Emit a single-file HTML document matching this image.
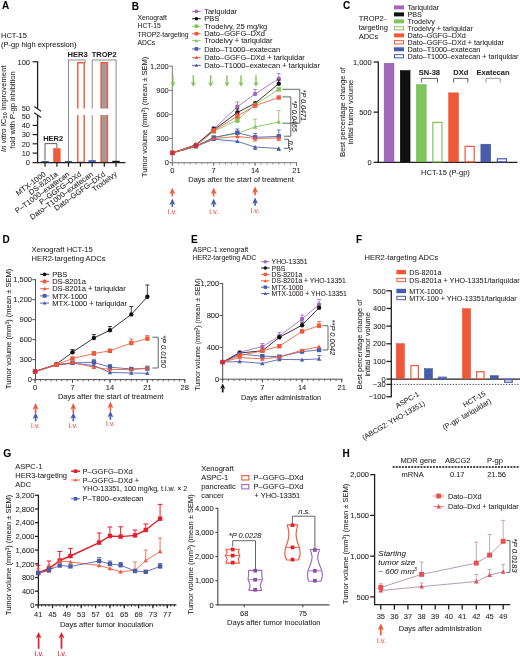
<!DOCTYPE html>
<html><head><meta charset="utf-8"><title>Figure</title>
<style>
html,body{margin:0;padding:0;background:#fff;}
body{width:520px;height:660px;overflow:hidden;}
svg{display:block;font-family:"Liberation Sans",sans-serif;}
text{fill:#231f20;stroke:#231f20;stroke-width:0.06px;}
</style></head><body>
<svg width="520" height="660" viewBox="0 0 520 660">
<g id="panelA">
<text x="2.00" y="9.10" font-size="10" font-weight="bold" style="fill:#000;stroke:#000">A</text>
<text x="1.00" y="38.20" font-size="7.5">HCT-15</text>
<text x="1.00" y="47.00" font-size="7.5">(P-gp high expression)</text>
<text x="5.70" y="108.70" font-size="7.5" text-anchor="middle" transform="rotate(-90 5.70 108.70)" textLength="86.5"><tspan font-style="italic">In vitro</tspan> IC<tspan dy="1.6" font-size="5.4">50</tspan><tspan dy="-1.6"> improvement</tspan></text>
<text x="14.80" y="110.00" font-size="7.5" text-anchor="middle" transform="rotate(-90 14.80 110.00)">fold with P-gp inhibition</text>
<line x1="37.60" y1="61.20" x2="37.60" y2="108.60" stroke="#231f20" stroke-width="1.3"/>
<line x1="37.60" y1="115.00" x2="37.60" y2="163.20" stroke="#231f20" stroke-width="1.3"/>
<line x1="34.20" y1="106.50" x2="41.10" y2="111.20" stroke="#231f20" stroke-width="1.1"/>
<line x1="34.20" y1="112.80" x2="41.10" y2="117.50" stroke="#231f20" stroke-width="1.1"/>
<line x1="32.60" y1="61.80" x2="37.60" y2="61.80" stroke="#231f20" stroke-width="1.2"/>
<text x="30.00" y="64.50" font-size="7.5" text-anchor="end">100</text>
<text x="30.00" y="111.20" font-size="7.5" text-anchor="end">50</text>
<text x="30.00" y="118.60" font-size="7.5" text-anchor="end">50</text>
<line x1="32.60" y1="125.40" x2="37.60" y2="125.40" stroke="#231f20" stroke-width="1.2"/>
<text x="30.00" y="128.10" font-size="7.5" text-anchor="end">40</text>
<line x1="32.60" y1="134.60" x2="37.60" y2="134.60" stroke="#231f20" stroke-width="1.2"/>
<text x="30.00" y="137.30" font-size="7.5" text-anchor="end">30</text>
<line x1="32.60" y1="143.80" x2="37.60" y2="143.80" stroke="#231f20" stroke-width="1.2"/>
<text x="30.00" y="146.50" font-size="7.5" text-anchor="end">20</text>
<line x1="32.60" y1="153.10" x2="37.60" y2="153.10" stroke="#231f20" stroke-width="1.2"/>
<text x="30.00" y="155.80" font-size="7.5" text-anchor="end">10</text>
<line x1="32.60" y1="162.60" x2="37.60" y2="162.60" stroke="#231f20" stroke-width="1.2"/>
<text x="30.00" y="165.30" font-size="7.5" text-anchor="end">0</text>
<path d="M68.5 162.3V60H85.2V63" stroke="#6d6e71" stroke-width="0.8" fill="none"/>
<path d="M92.2 162.3V60H116.1V162.3" stroke="#6d6e71" stroke-width="0.8" fill="none"/>
<rect x="41.30" y="161.00" width="7.40" height="1.30" fill="#495bab" stroke="none" stroke-width="1"/>
<rect x="53.20" y="148.20" width="7.40" height="14.10" fill="#f0583a" stroke="none" stroke-width="1"/>
<rect x="64.80" y="161.00" width="7.40" height="1.30" fill="#495bab" stroke="none" stroke-width="1"/>
<rect x="77.80" y="62.70" width="6.40" height="99.60" fill="#fff" stroke="#f0583a" stroke-width="1.4"/>
<rect x="88.40" y="160.20" width="7.40" height="2.10" fill="#495bab" stroke="none" stroke-width="1"/>
<rect x="101.10" y="62.70" width="6.40" height="99.60" fill="#9d9d9c" stroke="#f0583a" stroke-width="1.4"/>
<rect x="112.30" y="160.80" width="7.40" height="1.50" fill="#111111" stroke="none" stroke-width="1"/>
<rect x="75.00" y="108.60" width="36.00" height="6.40" fill="#fff" stroke="none" stroke-width="1"/>
<line x1="37.00" y1="162.60" x2="125.50" y2="162.60" stroke="#231f20" stroke-width="1.3"/>
<line x1="45.00" y1="162.30" x2="45.00" y2="166.80" stroke="#231f20" stroke-width="1.2"/>
<line x1="56.90" y1="162.30" x2="56.90" y2="166.80" stroke="#231f20" stroke-width="1.2"/>
<line x1="68.50" y1="162.30" x2="68.50" y2="166.80" stroke="#231f20" stroke-width="1.2"/>
<line x1="80.40" y1="162.30" x2="80.40" y2="166.80" stroke="#231f20" stroke-width="1.2"/>
<line x1="92.10" y1="162.30" x2="92.10" y2="166.80" stroke="#231f20" stroke-width="1.2"/>
<line x1="104.30" y1="162.30" x2="104.30" y2="166.80" stroke="#231f20" stroke-width="1.2"/>
<line x1="116.00" y1="162.30" x2="116.00" y2="166.80" stroke="#231f20" stroke-width="1.2"/>
<text x="46.50" y="175.30" font-size="7.5" text-anchor="end" transform="rotate(-36 46.50 175.30)">MTX-1000</text>
<text x="58.40" y="175.30" font-size="7.5" text-anchor="end" transform="rotate(-36 58.40 175.30)">DS-8201a</text>
<text x="70.00" y="175.30" font-size="7.5" text-anchor="end" transform="rotate(-36 70.00 175.30)">P–T1000–exatecan</text>
<text x="81.90" y="175.30" font-size="7.5" text-anchor="end" transform="rotate(-36 81.90 175.30)">P–GGFG–DXd</text>
<text x="93.60" y="175.30" font-size="7.5" text-anchor="end" transform="rotate(-36 93.60 175.30)">Dato–T1000–exatecan</text>
<text x="105.80" y="175.30" font-size="7.5" text-anchor="end" transform="rotate(-36 105.80 175.30)">Dato–GGFG–DXd</text>
<text x="117.50" y="175.30" font-size="7.5" text-anchor="end" transform="rotate(-36 117.50 175.30)">Trodelvy</text>
<path d="M45 160.5V143.6H56.9V148" stroke="#4d4d4f" stroke-width="0.9" fill="none"/>
<text x="53.20" y="141.30" font-size="7.5" text-anchor="middle" font-weight="bold">HER2</text>
<text x="77.60" y="57.20" font-size="7.5" text-anchor="middle" font-weight="bold">HER3</text>
<text x="104.20" y="57.20" font-size="7.5" text-anchor="middle" font-weight="bold">TROP2</text>
</g>
<g id="panelB">
<text x="131.80" y="9.60" font-size="10" font-weight="bold" style="fill:#000;stroke:#000">B</text>
<text x="137.60" y="19.90" font-size="6.75">Xenograft</text>
<text x="137.60" y="28.40" font-size="6.75">HCT-15</text>
<text x="137.60" y="36.90" font-size="6.75">TROP2-targeting</text>
<text x="137.60" y="45.40" font-size="6.75">ADCs</text>
<line x1="192.10" y1="11.40" x2="200.70" y2="11.40" stroke="#a168bb" stroke-width="0.95"/>
<circle cx="196.40" cy="11.40" r="1.80" fill="#a168bb"/>
<text x="204.20" y="14.00" font-size="7.5">Tariquidar</text>
<line x1="192.10" y1="18.70" x2="200.70" y2="18.70" stroke="#111111" stroke-width="0.95"/>
<circle cx="196.40" cy="18.70" r="1.80" fill="#111111"/>
<text x="204.20" y="21.30" font-size="7.5">PBS</text>
<line x1="192.10" y1="26.20" x2="200.70" y2="26.20" stroke="#80c45a" stroke-width="0.95"/>
<rect x="194.60" y="24.40" width="3.60" height="3.60" fill="#80c45a"/>
<text x="204.20" y="28.80" font-size="7.5">Trodelvy, 25 mg/kg</text>
<line x1="192.10" y1="33.70" x2="200.70" y2="33.70" stroke="#f0583a" stroke-width="0.95"/>
<rect x="194.60" y="31.90" width="3.60" height="3.60" fill="#f0583a"/>
<text x="204.20" y="36.30" font-size="7.5">Dato–GGFG–DXd</text>
<line x1="192.10" y1="40.70" x2="200.70" y2="40.70" stroke="#80c45a" stroke-width="0.95"/>
<path d="M196.40 38.90L198.20 42.14L194.60 42.14Z" fill="#80c45a"/>
<text x="204.20" y="43.30" font-size="7.5">Trodelvy + tariquidar</text>
<line x1="192.10" y1="48.90" x2="200.70" y2="48.90" stroke="#495bab" stroke-width="0.95"/>
<rect x="194.60" y="47.10" width="3.60" height="3.60" fill="#495bab"/>
<text x="204.20" y="51.50" font-size="7.5">Dato–T1000–exatecan</text>
<line x1="192.10" y1="57.60" x2="200.70" y2="57.60" stroke="#f0583a" stroke-width="0.95"/>
<path d="M196.40 55.80L198.20 59.04L194.60 59.04Z" fill="#f0583a"/>
<text x="204.20" y="60.20" font-size="7.5">Dato–GGFG–DXd + tariquidar</text>
<line x1="192.10" y1="65.40" x2="200.70" y2="65.40" stroke="#495bab" stroke-width="0.95"/>
<path d="M196.40 63.60L198.20 66.84L194.60 66.84Z" fill="#495bab"/>
<text x="204.20" y="68.00" font-size="7.5">Dato–T1000–exatecan + tariquidar</text>
<text x="146.60" y="117.00" font-size="7.5" text-anchor="middle" transform="rotate(-90 146.60 117.00)">Tumor volume (mm<tspan baseline-shift="super" font-size="4.8">3</tspan>) (mean ± SEM)</text>
<line x1="172.30" y1="163.20" x2="172.30" y2="65.70" stroke="#77787b" stroke-width="1"/>
<line x1="169.10" y1="162.70" x2="172.30" y2="162.70" stroke="#77787b" stroke-width="1"/>
<text x="168.80" y="165.40" font-size="7.5" text-anchor="end">0</text>
<line x1="169.10" y1="138.58" x2="172.30" y2="138.58" stroke="#77787b" stroke-width="1"/>
<text x="168.80" y="141.28" font-size="7.5" text-anchor="end">300</text>
<line x1="169.10" y1="114.46" x2="172.30" y2="114.46" stroke="#77787b" stroke-width="1"/>
<text x="168.80" y="117.16" font-size="7.5" text-anchor="end">600</text>
<line x1="169.10" y1="90.34" x2="172.30" y2="90.34" stroke="#77787b" stroke-width="1"/>
<text x="168.80" y="93.04" font-size="7.5" text-anchor="end">900</text>
<line x1="169.10" y1="66.22" x2="172.30" y2="66.22" stroke="#77787b" stroke-width="1"/>
<text x="168.80" y="68.92" font-size="7.5" text-anchor="end">1,200</text>
<line x1="171.80" y1="162.70" x2="297.01" y2="162.70" stroke="#77787b" stroke-width="1"/>
<line x1="172.30" y1="162.70" x2="172.30" y2="166.00" stroke="#77787b" stroke-width="1"/>
<text x="172.30" y="173.00" font-size="7.5" text-anchor="middle">0</text>
<line x1="213.71" y1="162.70" x2="213.71" y2="166.00" stroke="#77787b" stroke-width="1"/>
<text x="213.71" y="173.00" font-size="7.5" text-anchor="middle">7</text>
<line x1="255.11" y1="162.70" x2="255.11" y2="166.00" stroke="#77787b" stroke-width="1"/>
<text x="255.11" y="173.00" font-size="7.5" text-anchor="middle">14</text>
<line x1="296.51" y1="162.70" x2="296.51" y2="166.00" stroke="#77787b" stroke-width="1"/>
<text x="296.51" y="173.00" font-size="7.5" text-anchor="middle">21</text>
<line x1="172.30" y1="162.70" x2="172.30" y2="164.50" stroke="#77787b" stroke-width="0.8"/>
<line x1="178.22" y1="162.70" x2="178.22" y2="164.50" stroke="#77787b" stroke-width="0.8"/>
<line x1="184.13" y1="162.70" x2="184.13" y2="164.50" stroke="#77787b" stroke-width="0.8"/>
<line x1="190.05" y1="162.70" x2="190.05" y2="164.50" stroke="#77787b" stroke-width="0.8"/>
<line x1="195.96" y1="162.70" x2="195.96" y2="164.50" stroke="#77787b" stroke-width="0.8"/>
<line x1="201.88" y1="162.70" x2="201.88" y2="164.50" stroke="#77787b" stroke-width="0.8"/>
<line x1="207.79" y1="162.70" x2="207.79" y2="164.50" stroke="#77787b" stroke-width="0.8"/>
<line x1="213.71" y1="162.70" x2="213.71" y2="164.50" stroke="#77787b" stroke-width="0.8"/>
<line x1="219.62" y1="162.70" x2="219.62" y2="164.50" stroke="#77787b" stroke-width="0.8"/>
<line x1="225.54" y1="162.70" x2="225.54" y2="164.50" stroke="#77787b" stroke-width="0.8"/>
<line x1="231.45" y1="162.70" x2="231.45" y2="164.50" stroke="#77787b" stroke-width="0.8"/>
<line x1="237.37" y1="162.70" x2="237.37" y2="164.50" stroke="#77787b" stroke-width="0.8"/>
<line x1="243.28" y1="162.70" x2="243.28" y2="164.50" stroke="#77787b" stroke-width="0.8"/>
<line x1="249.19" y1="162.70" x2="249.19" y2="164.50" stroke="#77787b" stroke-width="0.8"/>
<line x1="255.11" y1="162.70" x2="255.11" y2="164.50" stroke="#77787b" stroke-width="0.8"/>
<line x1="261.02" y1="162.70" x2="261.02" y2="164.50" stroke="#77787b" stroke-width="0.8"/>
<line x1="266.94" y1="162.70" x2="266.94" y2="164.50" stroke="#77787b" stroke-width="0.8"/>
<line x1="272.86" y1="162.70" x2="272.86" y2="164.50" stroke="#77787b" stroke-width="0.8"/>
<line x1="278.77" y1="162.70" x2="278.77" y2="164.50" stroke="#77787b" stroke-width="0.8"/>
<line x1="284.69" y1="162.70" x2="284.69" y2="164.50" stroke="#77787b" stroke-width="0.8"/>
<line x1="290.60" y1="162.70" x2="290.60" y2="164.50" stroke="#77787b" stroke-width="0.8"/>
<line x1="296.51" y1="162.70" x2="296.51" y2="164.50" stroke="#77787b" stroke-width="0.8"/>
<text x="241.00" y="182.30" font-size="7.5" text-anchor="middle">Days after the start of treatment</text>
<line x1="173.00" y1="75.30" x2="173.00" y2="83.40" stroke="#80c45a" stroke-width="1.4"/>
<path d="M170.30 81.80L173.00 86.80L175.70 81.80L173.00 83.30Z" stroke="none" stroke-width="0" fill="#80c45a"/>
<line x1="193.30" y1="75.30" x2="193.30" y2="83.40" stroke="#80c45a" stroke-width="1.4"/>
<path d="M190.60 81.80L193.30 86.80L196.00 81.80L193.30 83.30Z" stroke="none" stroke-width="0" fill="#80c45a"/>
<line x1="210.70" y1="75.30" x2="210.70" y2="83.40" stroke="#80c45a" stroke-width="1.4"/>
<path d="M208.00 81.80L210.70 86.80L213.40 81.80L210.70 83.30Z" stroke="none" stroke-width="0" fill="#80c45a"/>
<line x1="227.00" y1="75.30" x2="227.00" y2="83.40" stroke="#80c45a" stroke-width="1.4"/>
<path d="M224.30 81.80L227.00 86.80L229.70 81.80L227.00 83.30Z" stroke="none" stroke-width="0" fill="#80c45a"/>
<line x1="241.00" y1="75.30" x2="241.00" y2="83.40" stroke="#80c45a" stroke-width="1.4"/>
<path d="M238.30 81.80L241.00 86.80L243.70 81.80L241.00 83.30Z" stroke="none" stroke-width="0" fill="#80c45a"/>
<line x1="256.00" y1="75.30" x2="256.00" y2="83.40" stroke="#80c45a" stroke-width="1.4"/>
<path d="M253.30 81.80L256.00 86.80L258.70 81.80L256.00 83.30Z" stroke="none" stroke-width="0" fill="#80c45a"/>
<path d="M172.30 152.90L195.96 144.60L213.71 129.20L237.37 106.70L255.11 94.00L278.77 78.70" stroke="#a168bb" stroke-width="0.85" fill="none" stroke-linejoin="round"/>
<line x1="213.71" y1="129.20" x2="213.71" y2="126.50" stroke="#a168bb" stroke-width="0.8"/>
<line x1="211.71" y1="126.50" x2="215.71" y2="126.50" stroke="#a168bb" stroke-width="0.8"/>
<line x1="237.37" y1="106.70" x2="237.37" y2="102.00" stroke="#a168bb" stroke-width="0.8"/>
<line x1="235.37" y1="102.00" x2="239.37" y2="102.00" stroke="#a168bb" stroke-width="0.8"/>
<line x1="255.11" y1="94.00" x2="255.11" y2="89.50" stroke="#a168bb" stroke-width="0.8"/>
<line x1="253.11" y1="89.50" x2="257.11" y2="89.50" stroke="#a168bb" stroke-width="0.8"/>
<line x1="278.77" y1="78.70" x2="278.77" y2="73.50" stroke="#a168bb" stroke-width="0.8"/>
<line x1="276.77" y1="73.50" x2="280.77" y2="73.50" stroke="#a168bb" stroke-width="0.8"/>
<circle cx="172.30" cy="152.90" r="2.20" fill="#a168bb"/>
<circle cx="195.96" cy="144.60" r="2.20" fill="#a168bb"/>
<circle cx="213.71" cy="129.20" r="2.20" fill="#a168bb"/>
<circle cx="237.37" cy="106.70" r="2.20" fill="#a168bb"/>
<circle cx="255.11" cy="94.00" r="2.20" fill="#a168bb"/>
<circle cx="278.77" cy="78.70" r="2.20" fill="#a168bb"/>
<path d="M172.30 152.90L195.96 145.00L213.71 130.00L237.37 112.50L255.11 103.30L278.77 83.70" stroke="#111111" stroke-width="0.85" fill="none" stroke-linejoin="round"/>
<line x1="213.71" y1="130.00" x2="213.71" y2="127.50" stroke="#111111" stroke-width="0.8"/>
<line x1="211.71" y1="127.50" x2="215.71" y2="127.50" stroke="#111111" stroke-width="0.8"/>
<line x1="237.37" y1="112.50" x2="237.37" y2="109.00" stroke="#111111" stroke-width="0.8"/>
<line x1="235.37" y1="109.00" x2="239.37" y2="109.00" stroke="#111111" stroke-width="0.8"/>
<line x1="278.77" y1="83.70" x2="278.77" y2="80.00" stroke="#111111" stroke-width="0.8"/>
<line x1="276.77" y1="80.00" x2="280.77" y2="80.00" stroke="#111111" stroke-width="0.8"/>
<circle cx="172.30" cy="152.90" r="2.20" fill="#111111"/>
<circle cx="195.96" cy="145.00" r="2.20" fill="#111111"/>
<circle cx="213.71" cy="130.00" r="2.20" fill="#111111"/>
<circle cx="237.37" cy="112.50" r="2.20" fill="#111111"/>
<circle cx="255.11" cy="103.30" r="2.20" fill="#111111"/>
<circle cx="278.77" cy="83.70" r="2.20" fill="#111111"/>
<path d="M172.30 152.90L195.96 145.50L213.71 131.50L237.37 120.00L255.11 104.80L278.77 89.40" stroke="#80c45a" stroke-width="0.85" fill="none" stroke-linejoin="round"/>
<line x1="237.37" y1="120.00" x2="237.37" y2="122.50" stroke="#80c45a" stroke-width="0.8"/>
<line x1="235.37" y1="122.50" x2="239.37" y2="122.50" stroke="#80c45a" stroke-width="0.8"/>
<rect x="170.10" y="150.70" width="4.40" height="4.40" fill="#80c45a"/>
<rect x="193.76" y="143.30" width="4.40" height="4.40" fill="#80c45a"/>
<rect x="211.51" y="129.30" width="4.40" height="4.40" fill="#80c45a"/>
<rect x="235.17" y="117.80" width="4.40" height="4.40" fill="#80c45a"/>
<rect x="252.91" y="102.60" width="4.40" height="4.40" fill="#80c45a"/>
<rect x="276.57" y="87.20" width="4.40" height="4.40" fill="#80c45a"/>
<path d="M172.30 152.90L195.96 146.50L213.71 137.50L237.37 133.50L255.11 126.90L278.77 122.00" stroke="#80c45a" stroke-width="0.85" fill="none" stroke-linejoin="round"/>
<line x1="255.11" y1="126.90" x2="255.11" y2="119.00" stroke="#80c45a" stroke-width="0.8"/>
<line x1="253.11" y1="119.00" x2="257.11" y2="119.00" stroke="#80c45a" stroke-width="0.8"/>
<line x1="278.77" y1="122.00" x2="278.77" y2="110.50" stroke="#80c45a" stroke-width="0.8"/>
<line x1="276.77" y1="110.50" x2="280.77" y2="110.50" stroke="#80c45a" stroke-width="0.8"/>
<path d="M172.30 150.70L174.50 154.66L170.10 154.66Z" fill="#80c45a"/>
<path d="M195.96 144.30L198.16 148.26L193.76 148.26Z" fill="#80c45a"/>
<path d="M213.71 135.30L215.91 139.26L211.51 139.26Z" fill="#80c45a"/>
<path d="M237.37 131.30L239.56 135.26L235.17 135.26Z" fill="#80c45a"/>
<path d="M255.11 124.70L257.31 128.66L252.91 128.66Z" fill="#80c45a"/>
<path d="M278.77 119.80L280.97 123.76L276.57 123.76Z" fill="#80c45a"/>
<path d="M172.30 152.90L195.96 146.00L213.71 137.50L237.37 132.70L255.11 137.30L278.77 136.40" stroke="#495bab" stroke-width="0.85" fill="none" stroke-linejoin="round"/>
<line x1="237.37" y1="132.70" x2="237.37" y2="129.00" stroke="#495bab" stroke-width="0.8"/>
<line x1="235.37" y1="129.00" x2="239.37" y2="129.00" stroke="#495bab" stroke-width="0.8"/>
<line x1="255.11" y1="137.30" x2="255.11" y2="133.50" stroke="#495bab" stroke-width="0.8"/>
<line x1="253.11" y1="133.50" x2="257.11" y2="133.50" stroke="#495bab" stroke-width="0.8"/>
<line x1="278.77" y1="136.40" x2="278.77" y2="130.00" stroke="#495bab" stroke-width="0.8"/>
<line x1="276.77" y1="130.00" x2="280.77" y2="130.00" stroke="#495bab" stroke-width="0.8"/>
<rect x="170.10" y="150.70" width="4.40" height="4.40" fill="#495bab"/>
<rect x="193.76" y="143.80" width="4.40" height="4.40" fill="#495bab"/>
<rect x="211.51" y="135.30" width="4.40" height="4.40" fill="#495bab"/>
<rect x="235.17" y="130.50" width="4.40" height="4.40" fill="#495bab"/>
<rect x="252.91" y="135.10" width="4.40" height="4.40" fill="#495bab"/>
<rect x="276.57" y="134.20" width="4.40" height="4.40" fill="#495bab"/>
<path d="M172.30 152.90L195.96 146.50L213.71 139.30L237.37 141.30L255.11 147.10L278.77 148.50" stroke="#495bab" stroke-width="0.85" fill="none" stroke-linejoin="round"/>
<line x1="255.11" y1="147.10" x2="255.11" y2="149.50" stroke="#495bab" stroke-width="0.8"/>
<line x1="253.11" y1="149.50" x2="257.11" y2="149.50" stroke="#495bab" stroke-width="0.8"/>
<line x1="278.77" y1="148.50" x2="278.77" y2="150.50" stroke="#495bab" stroke-width="0.8"/>
<line x1="276.77" y1="150.50" x2="280.77" y2="150.50" stroke="#495bab" stroke-width="0.8"/>
<path d="M172.30 150.70L174.50 154.66L170.10 154.66Z" fill="#495bab"/>
<path d="M195.96 144.30L198.16 148.26L193.76 148.26Z" fill="#495bab"/>
<path d="M213.71 137.10L215.91 141.06L211.51 141.06Z" fill="#495bab"/>
<path d="M237.37 139.10L239.56 143.06L235.17 143.06Z" fill="#495bab"/>
<path d="M255.11 144.90L257.31 148.86L252.91 148.86Z" fill="#495bab"/>
<path d="M278.77 146.30L280.97 150.26L276.57 150.26Z" fill="#495bab"/>
<path d="M172.30 152.90L195.96 145.50L213.71 130.80L237.37 116.20L255.11 105.60L278.77 97.50" stroke="#f0583a" stroke-width="0.85" fill="none" stroke-linejoin="round"/>
<line x1="213.71" y1="130.80" x2="213.71" y2="128.50" stroke="#f0583a" stroke-width="0.8"/>
<line x1="211.71" y1="128.50" x2="215.71" y2="128.50" stroke="#f0583a" stroke-width="0.8"/>
<line x1="237.37" y1="116.20" x2="237.37" y2="113.00" stroke="#f0583a" stroke-width="0.8"/>
<line x1="235.37" y1="113.00" x2="239.37" y2="113.00" stroke="#f0583a" stroke-width="0.8"/>
<rect x="170.10" y="150.70" width="4.40" height="4.40" fill="#f0583a"/>
<rect x="193.76" y="143.30" width="4.40" height="4.40" fill="#f0583a"/>
<rect x="211.51" y="128.60" width="4.40" height="4.40" fill="#f0583a"/>
<rect x="235.17" y="114.00" width="4.40" height="4.40" fill="#f0583a"/>
<rect x="252.91" y="103.40" width="4.40" height="4.40" fill="#f0583a"/>
<rect x="276.57" y="95.30" width="4.40" height="4.40" fill="#f0583a"/>
<path d="M172.30 152.90L195.96 146.00L213.71 138.60L237.37 136.40L255.11 138.50L278.77 137.90" stroke="#f0583a" stroke-width="0.85" fill="none" stroke-linejoin="round"/>
<line x1="255.11" y1="138.50" x2="255.11" y2="141.00" stroke="#f0583a" stroke-width="0.8"/>
<line x1="253.11" y1="141.00" x2="257.11" y2="141.00" stroke="#f0583a" stroke-width="0.8"/>
<line x1="278.77" y1="137.90" x2="278.77" y2="140.50" stroke="#f0583a" stroke-width="0.8"/>
<line x1="276.77" y1="140.50" x2="280.77" y2="140.50" stroke="#f0583a" stroke-width="0.8"/>
<path d="M172.30 150.70L174.50 154.66L170.10 154.66Z" fill="#f0583a"/>
<path d="M195.96 143.80L198.16 147.76L193.76 147.76Z" fill="#f0583a"/>
<path d="M213.71 136.40L215.91 140.36L211.51 140.36Z" fill="#f0583a"/>
<path d="M237.37 134.20L239.56 138.16L235.17 138.16Z" fill="#f0583a"/>
<path d="M255.11 136.30L257.31 140.26L252.91 140.26Z" fill="#f0583a"/>
<path d="M278.77 135.70L280.97 139.66L276.57 139.66Z" fill="#f0583a"/>
<circle cx="172.30" cy="152.90" r="2.20" fill="#d8263c"/>
<circle cx="195.96" cy="145.60" r="2.30" fill="#c8283c"/>
<path d="M282.4 89.3H299.8V123.2H282.4" stroke="#454d4f" stroke-width="0.85" fill="none"/>
<path d="M282.4 96.9H290.8V136.2H284" stroke="#454d4f" stroke-width="0.85" fill="none"/>
<path d="M284 139.2H288.5V148.3H284" stroke="#454d4f" stroke-width="0.85" fill="none"/>
<text x="301.30" y="89.60" font-size="7.2" font-style="italic" transform="rotate(90 301.30 89.60)">*P 0.0471</text>
<text x="292.20" y="100.40" font-size="7.2" font-style="italic" transform="rotate(90 292.20 100.40)">*P 0.0465</text>
<text x="289.40" y="140.80" font-size="7.5" font-style="italic" transform="rotate(90 289.40 140.80)">n.s.</text>
<line x1="172.30" y1="196.40" x2="172.30" y2="192.50" stroke="#f0583a" stroke-width="1.6"/>
<path d="M169.40 194.10L172.30 187.80L175.20 194.10L172.30 192.70Z" stroke="none" stroke-width="0" fill="#f0583a"/>
<line x1="172.30" y1="206.90" x2="172.30" y2="203.30" stroke="#495bab" stroke-width="1.6"/>
<path d="M169.40 204.90L172.30 198.60L175.20 204.90L172.30 203.50Z" stroke="none" stroke-width="0" fill="#495bab"/>
<text x="172.30" y="214.30" font-size="7.5" text-anchor="middle" style="fill:#f0583a;stroke:#f0583a">i.v.</text>
<line x1="213.71" y1="196.40" x2="213.71" y2="192.50" stroke="#f0583a" stroke-width="1.6"/>
<path d="M210.81 194.10L213.71 187.80L216.61 194.10L213.71 192.70Z" stroke="none" stroke-width="0" fill="#f0583a"/>
<line x1="213.71" y1="206.90" x2="213.71" y2="203.30" stroke="#495bab" stroke-width="1.6"/>
<path d="M210.81 204.90L213.71 198.60L216.61 204.90L213.71 203.50Z" stroke="none" stroke-width="0" fill="#495bab"/>
<text x="213.71" y="214.30" font-size="7.5" text-anchor="middle" style="fill:#f0583a;stroke:#f0583a">i.v.</text>
<line x1="255.11" y1="195.20" x2="255.11" y2="191.30" stroke="#f0583a" stroke-width="1.6"/>
<path d="M252.21 192.90L255.11 186.60L258.01 192.90L255.11 191.50Z" stroke="none" stroke-width="0" fill="#f0583a"/>
<line x1="255.11" y1="205.70" x2="255.11" y2="202.10" stroke="#495bab" stroke-width="1.6"/>
<path d="M252.21 203.70L255.11 197.40L258.01 203.70L255.11 202.30Z" stroke="none" stroke-width="0" fill="#495bab"/>
<text x="255.11" y="213.10" font-size="7.5" text-anchor="middle" style="fill:#f0583a;stroke:#f0583a">i.v.</text>
</g>
<g id="panelC">
<text x="343.00" y="9.10" font-size="10" font-weight="bold" style="fill:#000;stroke:#000">C</text>
<text x="358.70" y="21.30" font-size="7.5">TROP2-</text>
<text x="358.70" y="30.10" font-size="7.5">targeting</text>
<text x="358.70" y="38.90" font-size="7.5">ADCs</text>
<rect x="394.00" y="5.40" width="10.00" height="4.00" fill="#a168bb" stroke="none" stroke-width="1"/>
<text x="407.50" y="9.90" font-size="7.2">Tariquidar</text>
<rect x="394.00" y="12.38" width="10.00" height="4.00" fill="#111111" stroke="none" stroke-width="1"/>
<text x="407.50" y="16.88" font-size="7.2">PBS</text>
<rect x="394.00" y="19.36" width="10.00" height="4.00" fill="#80c45a" stroke="none" stroke-width="1"/>
<text x="407.50" y="23.86" font-size="7.2">Trodelvy</text>
<rect x="394.50" y="26.74" width="9.00" height="3.20" fill="#fff" stroke="#80c45a" stroke-width="1"/>
<text x="407.50" y="30.84" font-size="7.2">Trodelvy + tariquidar</text>
<rect x="394.00" y="33.32" width="10.00" height="4.00" fill="#f0583a" stroke="none" stroke-width="1"/>
<text x="407.50" y="37.82" font-size="7.2">Dato–GGFG–DXd</text>
<rect x="394.50" y="40.70" width="9.00" height="3.20" fill="#fff" stroke="#f0583a" stroke-width="1"/>
<text x="407.50" y="44.80" font-size="7.2">Dato–GGFG–DXd + tariquidar</text>
<rect x="394.00" y="47.28" width="10.00" height="4.00" fill="#495bab" stroke="none" stroke-width="1"/>
<text x="407.50" y="51.78" font-size="7.2">Dato–T1000–exatecan</text>
<rect x="394.50" y="54.66" width="9.00" height="3.20" fill="#fff" stroke="#495bab" stroke-width="1"/>
<text x="407.50" y="58.76" font-size="7.2">Dato–T1000–exatecan + tariquidar</text>
<text x="344.50" y="112.00" font-size="7.5" text-anchor="middle" transform="rotate(-90 344.50 112.00)">Best percentage change of</text>
<text x="352.50" y="112.00" font-size="7.5" text-anchor="middle" transform="rotate(-90 352.50 112.00)">initial tumor volume</text>
<line x1="378.30" y1="162.90" x2="378.30" y2="61.40" stroke="#231f20" stroke-width="1.3"/>
<line x1="373.60" y1="162.30" x2="378.30" y2="162.30" stroke="#231f20" stroke-width="1.3"/>
<text x="371.70" y="165.00" font-size="7.5" text-anchor="end">0</text>
<line x1="373.60" y1="112.15" x2="378.30" y2="112.15" stroke="#231f20" stroke-width="1.3"/>
<text x="371.70" y="114.85" font-size="7.5" text-anchor="end">500</text>
<line x1="373.60" y1="62.00" x2="378.30" y2="62.00" stroke="#231f20" stroke-width="1.3"/>
<text x="371.70" y="64.70" font-size="7.5" text-anchor="end">1,000</text>
<line x1="377.70" y1="162.30" x2="517.50" y2="162.30" stroke="#231f20" stroke-width="1.3"/>
<rect x="384.15" y="63.25" width="9.80" height="98.60" fill="#a168bb" stroke="#8a52a6" stroke-width="0.5"/>
<rect x="400.27" y="70.47" width="9.80" height="91.38" fill="#111111" stroke="#000" stroke-width="0.5"/>
<rect x="416.39" y="84.72" width="9.80" height="77.13" fill="#80c45a" stroke="#69b044" stroke-width="0.5"/>
<rect x="432.86" y="122.38" width="9.10" height="39.42" fill="#fff" stroke="#80c45a" stroke-width="1.2"/>
<rect x="448.63" y="92.84" width="9.80" height="69.01" fill="#f0583a" stroke="#e2472b" stroke-width="0.5"/>
<rect x="465.10" y="146.35" width="9.10" height="15.45" fill="#fff" stroke="#f0583a" stroke-width="1.2"/>
<rect x="480.87" y="144.20" width="9.80" height="17.65" fill="#495bab" stroke="#3b4c99" stroke-width="0.5"/>
<rect x="497.34" y="158.79" width="9.10" height="3.01" fill="#fff" stroke="#495bab" stroke-width="1.2"/>
<path d="M421.3 82.7V78.4H437.5V82.7" stroke="#231f20" stroke-width="0.7" fill="none"/>
<text x="429.40" y="75.20" font-size="7.5" text-anchor="middle" font-weight="bold">SN-38</text>
<path d="M453.6 82.7V78.4H467.9V82.7" stroke="#231f20" stroke-width="0.7" fill="none"/>
<text x="460.75" y="75.20" font-size="7.5" text-anchor="middle" font-weight="bold">DXd</text>
<path d="M485.9 82.7V78.4H500.2V82.7" stroke="#6d6e71" stroke-width="0.7" fill="none"/>
<text x="493.05" y="75.20" font-size="7.5" text-anchor="middle" font-weight="bold">Exatecan</text>
<text x="445.50" y="174.60" font-size="7.5" text-anchor="middle">HCT-15 (P-gp)</text>
</g>
<g id="panelD">
<text x="2.60" y="242.60" font-size="10" font-weight="bold" style="fill:#000;stroke:#000">D</text>
<text x="31.60" y="251.70" font-size="7.6">Xenograft HCT-15</text>
<text x="31.60" y="260.60" font-size="7.6">HER2-targeting ADCs</text>
<text x="11.20" y="329.00" font-size="7.5" text-anchor="middle" transform="rotate(-90 11.20 329.00)">Tumor volume (mm<tspan baseline-shift="super" font-size="4.8">3</tspan>) (mean ± SEM)</text>
<line x1="35.50" y1="380.10" x2="35.50" y2="279.20" stroke="#4d4e50" stroke-width="1"/>
<line x1="32.30" y1="379.60" x2="35.50" y2="379.60" stroke="#4d4e50" stroke-width="1"/>
<text x="32.00" y="382.30" font-size="7.5" text-anchor="end">0</text>
<line x1="32.30" y1="359.62" x2="35.50" y2="359.62" stroke="#4d4e50" stroke-width="1"/>
<text x="32.00" y="362.32" font-size="7.5" text-anchor="end">300</text>
<line x1="32.30" y1="339.64" x2="35.50" y2="339.64" stroke="#4d4e50" stroke-width="1"/>
<text x="32.00" y="342.34" font-size="7.5" text-anchor="end">600</text>
<line x1="32.30" y1="319.66" x2="35.50" y2="319.66" stroke="#4d4e50" stroke-width="1"/>
<text x="32.00" y="322.36" font-size="7.5" text-anchor="end">900</text>
<line x1="32.30" y1="299.68" x2="35.50" y2="299.68" stroke="#4d4e50" stroke-width="1"/>
<text x="32.00" y="302.38" font-size="7.5" text-anchor="end">1,200</text>
<line x1="32.30" y1="279.70" x2="35.50" y2="279.70" stroke="#4d4e50" stroke-width="1"/>
<text x="32.00" y="282.40" font-size="7.5" text-anchor="end">1,500</text>
<line x1="35.00" y1="379.60" x2="185.26" y2="379.60" stroke="#4d4e50" stroke-width="1"/>
<line x1="35.10" y1="379.60" x2="35.10" y2="382.90" stroke="#4d4e50" stroke-width="1"/>
<text x="35.10" y="390.40" font-size="7.5" text-anchor="middle">0</text>
<line x1="72.52" y1="379.60" x2="72.52" y2="382.90" stroke="#4d4e50" stroke-width="1"/>
<text x="72.52" y="390.40" font-size="7.5" text-anchor="middle">7</text>
<line x1="109.93" y1="379.60" x2="109.93" y2="382.90" stroke="#4d4e50" stroke-width="1"/>
<text x="109.93" y="390.40" font-size="7.5" text-anchor="middle">14</text>
<line x1="147.34" y1="379.60" x2="147.34" y2="382.90" stroke="#4d4e50" stroke-width="1"/>
<text x="147.34" y="390.40" font-size="7.5" text-anchor="middle">21</text>
<line x1="184.76" y1="379.60" x2="184.76" y2="382.90" stroke="#4d4e50" stroke-width="1"/>
<text x="184.76" y="390.40" font-size="7.5" text-anchor="middle">28</text>
<line x1="35.10" y1="379.60" x2="35.10" y2="381.40" stroke="#4d4e50" stroke-width="0.8"/>
<line x1="40.45" y1="379.60" x2="40.45" y2="381.40" stroke="#4d4e50" stroke-width="0.8"/>
<line x1="45.79" y1="379.60" x2="45.79" y2="381.40" stroke="#4d4e50" stroke-width="0.8"/>
<line x1="51.14" y1="379.60" x2="51.14" y2="381.40" stroke="#4d4e50" stroke-width="0.8"/>
<line x1="56.48" y1="379.60" x2="56.48" y2="381.40" stroke="#4d4e50" stroke-width="0.8"/>
<line x1="61.83" y1="379.60" x2="61.83" y2="381.40" stroke="#4d4e50" stroke-width="0.8"/>
<line x1="67.17" y1="379.60" x2="67.17" y2="381.40" stroke="#4d4e50" stroke-width="0.8"/>
<line x1="72.52" y1="379.60" x2="72.52" y2="381.40" stroke="#4d4e50" stroke-width="0.8"/>
<line x1="77.86" y1="379.60" x2="77.86" y2="381.40" stroke="#4d4e50" stroke-width="0.8"/>
<line x1="83.20" y1="379.60" x2="83.20" y2="381.40" stroke="#4d4e50" stroke-width="0.8"/>
<line x1="88.55" y1="379.60" x2="88.55" y2="381.40" stroke="#4d4e50" stroke-width="0.8"/>
<line x1="93.89" y1="379.60" x2="93.89" y2="381.40" stroke="#4d4e50" stroke-width="0.8"/>
<line x1="99.24" y1="379.60" x2="99.24" y2="381.40" stroke="#4d4e50" stroke-width="0.8"/>
<line x1="104.59" y1="379.60" x2="104.59" y2="381.40" stroke="#4d4e50" stroke-width="0.8"/>
<line x1="109.93" y1="379.60" x2="109.93" y2="381.40" stroke="#4d4e50" stroke-width="0.8"/>
<line x1="115.28" y1="379.60" x2="115.28" y2="381.40" stroke="#4d4e50" stroke-width="0.8"/>
<line x1="120.62" y1="379.60" x2="120.62" y2="381.40" stroke="#4d4e50" stroke-width="0.8"/>
<line x1="125.97" y1="379.60" x2="125.97" y2="381.40" stroke="#4d4e50" stroke-width="0.8"/>
<line x1="131.31" y1="379.60" x2="131.31" y2="381.40" stroke="#4d4e50" stroke-width="0.8"/>
<line x1="136.66" y1="379.60" x2="136.66" y2="381.40" stroke="#4d4e50" stroke-width="0.8"/>
<line x1="142.00" y1="379.60" x2="142.00" y2="381.40" stroke="#4d4e50" stroke-width="0.8"/>
<line x1="147.34" y1="379.60" x2="147.34" y2="381.40" stroke="#4d4e50" stroke-width="0.8"/>
<line x1="152.69" y1="379.60" x2="152.69" y2="381.40" stroke="#4d4e50" stroke-width="0.8"/>
<line x1="158.03" y1="379.60" x2="158.03" y2="381.40" stroke="#4d4e50" stroke-width="0.8"/>
<line x1="163.38" y1="379.60" x2="163.38" y2="381.40" stroke="#4d4e50" stroke-width="0.8"/>
<line x1="168.72" y1="379.60" x2="168.72" y2="381.40" stroke="#4d4e50" stroke-width="0.8"/>
<line x1="174.07" y1="379.60" x2="174.07" y2="381.40" stroke="#4d4e50" stroke-width="0.8"/>
<line x1="179.41" y1="379.60" x2="179.41" y2="381.40" stroke="#4d4e50" stroke-width="0.8"/>
<line x1="184.76" y1="379.60" x2="184.76" y2="381.40" stroke="#4d4e50" stroke-width="0.8"/>
<text x="110.70" y="399.00" font-size="7.5" text-anchor="middle">Days after the start of treatment</text>
<line x1="40.10" y1="274.30" x2="49.10" y2="274.30" stroke="#111111" stroke-width="0.95"/>
<circle cx="44.60" cy="274.30" r="1.90" fill="#111111"/>
<text x="52.20" y="276.90" font-size="7.5">PBS</text>
<line x1="40.10" y1="281.50" x2="49.10" y2="281.50" stroke="#f0583a" stroke-width="0.95"/>
<rect x="42.70" y="279.60" width="3.80" height="3.80" fill="#f0583a"/>
<text x="52.20" y="284.10" font-size="7.5">DS-8201a</text>
<line x1="40.10" y1="288.70" x2="49.10" y2="288.70" stroke="#f0583a" stroke-width="0.95"/>
<path d="M44.60 286.80L46.50 290.22L42.70 290.22Z" fill="#f0583a"/>
<text x="52.20" y="291.30" font-size="7.5">DS-8201a + tariquidar</text>
<line x1="40.10" y1="295.90" x2="49.10" y2="295.90" stroke="#495bab" stroke-width="0.95"/>
<rect x="42.70" y="294.00" width="3.80" height="3.80" fill="#495bab"/>
<text x="52.20" y="298.50" font-size="7.5">MTX-1000</text>
<line x1="40.10" y1="303.10" x2="49.10" y2="303.10" stroke="#495bab" stroke-width="0.95"/>
<path d="M44.60 301.20L46.50 304.62L42.70 304.62Z" fill="#495bab"/>
<text x="52.20" y="305.70" font-size="7.5">MTX-1000 + tariquidar</text>
<path d="M35.10 371.50L56.48 364.20L72.52 352.20L93.89 338.00L109.93 330.30L131.31 314.40L147.34 296.80" stroke="#111111" stroke-width="0.85" fill="none" stroke-linejoin="round"/>
<line x1="72.52" y1="352.20" x2="72.52" y2="349.50" stroke="#111111" stroke-width="0.8"/>
<line x1="70.52" y1="349.50" x2="74.52" y2="349.50" stroke="#111111" stroke-width="0.8"/>
<line x1="93.89" y1="338.00" x2="93.89" y2="334.50" stroke="#111111" stroke-width="0.8"/>
<line x1="91.89" y1="334.50" x2="95.89" y2="334.50" stroke="#111111" stroke-width="0.8"/>
<line x1="109.93" y1="330.30" x2="109.93" y2="326.50" stroke="#111111" stroke-width="0.8"/>
<line x1="107.93" y1="326.50" x2="111.93" y2="326.50" stroke="#111111" stroke-width="0.8"/>
<line x1="131.31" y1="314.40" x2="131.31" y2="306.50" stroke="#111111" stroke-width="0.8"/>
<line x1="129.31" y1="306.50" x2="133.31" y2="306.50" stroke="#111111" stroke-width="0.8"/>
<line x1="147.34" y1="296.80" x2="147.34" y2="285.00" stroke="#111111" stroke-width="0.8"/>
<line x1="145.34" y1="285.00" x2="149.34" y2="285.00" stroke="#111111" stroke-width="0.8"/>
<circle cx="35.10" cy="371.50" r="2.20" fill="#111111"/>
<circle cx="56.48" cy="364.20" r="2.20" fill="#111111"/>
<circle cx="72.52" cy="352.20" r="2.20" fill="#111111"/>
<circle cx="93.89" cy="338.00" r="2.20" fill="#111111"/>
<circle cx="109.93" cy="330.30" r="2.20" fill="#111111"/>
<circle cx="131.31" cy="314.40" r="2.20" fill="#111111"/>
<circle cx="147.34" cy="296.80" r="2.20" fill="#111111"/>
<path d="M35.10 371.50L56.48 365.00L72.52 363.20L93.89 365.50L109.93 372.40L131.31 373.00L147.34 373.30" stroke="#495bab" stroke-width="0.85" fill="none" stroke-linejoin="round"/>
<path d="M35.10 369.30L37.30 373.26L32.90 373.26Z" fill="#495bab"/>
<path d="M56.48 362.80L58.68 366.76L54.28 366.76Z" fill="#495bab"/>
<path d="M72.52 361.00L74.72 364.96L70.31 364.96Z" fill="#495bab"/>
<path d="M93.89 363.30L96.09 367.26L91.69 367.26Z" fill="#495bab"/>
<path d="M109.93 370.20L112.13 374.16L107.73 374.16Z" fill="#495bab"/>
<path d="M131.31 370.80L133.51 374.76L129.11 374.76Z" fill="#495bab"/>
<path d="M147.34 371.10L149.54 375.06L145.15 375.06Z" fill="#495bab"/>
<path d="M35.10 371.50L56.48 364.80L72.52 362.90L93.89 362.30L109.93 367.20L131.31 369.00L147.34 368.60" stroke="#495bab" stroke-width="0.85" fill="none" stroke-linejoin="round"/>
<line x1="93.89" y1="362.30" x2="93.89" y2="359.30" stroke="#495bab" stroke-width="0.8"/>
<line x1="91.89" y1="359.30" x2="95.89" y2="359.30" stroke="#495bab" stroke-width="0.8"/>
<line x1="109.93" y1="367.20" x2="109.93" y2="364.50" stroke="#495bab" stroke-width="0.8"/>
<line x1="107.93" y1="364.50" x2="111.93" y2="364.50" stroke="#495bab" stroke-width="0.8"/>
<line x1="147.34" y1="368.60" x2="147.34" y2="366.00" stroke="#495bab" stroke-width="0.8"/>
<line x1="145.34" y1="366.00" x2="149.34" y2="366.00" stroke="#495bab" stroke-width="0.8"/>
<rect x="32.90" y="369.30" width="4.40" height="4.40" fill="#495bab"/>
<rect x="54.28" y="362.60" width="4.40" height="4.40" fill="#495bab"/>
<rect x="70.31" y="360.70" width="4.40" height="4.40" fill="#495bab"/>
<rect x="91.69" y="360.10" width="4.40" height="4.40" fill="#495bab"/>
<rect x="107.73" y="365.00" width="4.40" height="4.40" fill="#495bab"/>
<rect x="129.11" y="366.80" width="4.40" height="4.40" fill="#495bab"/>
<rect x="145.15" y="366.40" width="4.40" height="4.40" fill="#495bab"/>
<path d="M35.10 371.50L56.48 365.00L72.52 362.50L93.89 367.20L109.93 369.50L131.31 369.50L147.34 368.00" stroke="#f0583a" stroke-width="0.85" fill="none" stroke-linejoin="round"/>
<path d="M35.10 369.30L37.30 373.26L32.90 373.26Z" fill="#f0583a"/>
<path d="M56.48 362.80L58.68 366.76L54.28 366.76Z" fill="#f0583a"/>
<path d="M72.52 360.30L74.72 364.26L70.31 364.26Z" fill="#f0583a"/>
<path d="M93.89 365.00L96.09 368.96L91.69 368.96Z" fill="#f0583a"/>
<path d="M109.93 367.30L112.13 371.26L107.73 371.26Z" fill="#f0583a"/>
<path d="M131.31 367.30L133.51 371.26L129.11 371.26Z" fill="#f0583a"/>
<path d="M147.34 365.80L149.54 369.76L145.15 369.76Z" fill="#f0583a"/>
<path d="M35.10 371.50L56.48 364.60L72.52 358.50L93.89 353.60L109.93 350.80L131.31 343.00L147.34 338.60" stroke="#f0583a" stroke-width="0.85" fill="none" stroke-linejoin="round"/>
<line x1="93.89" y1="353.60" x2="93.89" y2="351.50" stroke="#f0583a" stroke-width="0.8"/>
<line x1="91.89" y1="351.50" x2="95.89" y2="351.50" stroke="#f0583a" stroke-width="0.8"/>
<line x1="131.31" y1="343.00" x2="131.31" y2="339.00" stroke="#f0583a" stroke-width="0.8"/>
<line x1="129.31" y1="339.00" x2="133.31" y2="339.00" stroke="#f0583a" stroke-width="0.8"/>
<line x1="147.34" y1="338.60" x2="147.34" y2="335.50" stroke="#f0583a" stroke-width="0.8"/>
<line x1="145.34" y1="335.50" x2="149.34" y2="335.50" stroke="#f0583a" stroke-width="0.8"/>
<rect x="32.90" y="369.30" width="4.40" height="4.40" fill="#f0583a"/>
<rect x="54.28" y="362.40" width="4.40" height="4.40" fill="#f0583a"/>
<rect x="70.31" y="356.30" width="4.40" height="4.40" fill="#f0583a"/>
<rect x="91.69" y="351.40" width="4.40" height="4.40" fill="#f0583a"/>
<rect x="107.73" y="348.60" width="4.40" height="4.40" fill="#f0583a"/>
<rect x="129.11" y="340.80" width="4.40" height="4.40" fill="#f0583a"/>
<rect x="145.15" y="336.40" width="4.40" height="4.40" fill="#f0583a"/>
<circle cx="35.10" cy="371.50" r="2.20" fill="#d8263c"/>
<path d="M152.4 337.2H158.2V368H152.4" stroke="#454d4f" stroke-width="0.85" fill="none"/>
<text x="160.60" y="335.20" font-size="7.5" font-style="italic" transform="rotate(90 160.60 335.20)">*P 0.0150</text>
<line x1="35.60" y1="413.00" x2="35.60" y2="407.80" stroke="#f0583a" stroke-width="1.6"/>
<path d="M32.70 409.40L35.60 403.10L38.50 409.40L35.60 408.00Z" stroke="none" stroke-width="0" fill="#f0583a"/>
<line x1="35.60" y1="421.30" x2="35.60" y2="417.10" stroke="#495bab" stroke-width="1.6"/>
<path d="M32.70 418.70L35.60 412.40L38.50 418.70L35.60 417.30Z" stroke="none" stroke-width="0" fill="#495bab"/>
<text x="35.60" y="427.70" font-size="7.5" text-anchor="middle" style="fill:#f0583a;stroke:#f0583a">i.v.</text>
<line x1="73.31" y1="413.00" x2="73.31" y2="407.80" stroke="#f0583a" stroke-width="1.6"/>
<path d="M70.41 409.40L73.31 403.10L76.22 409.40L73.31 408.00Z" stroke="none" stroke-width="0" fill="#f0583a"/>
<line x1="73.31" y1="421.30" x2="73.31" y2="417.10" stroke="#495bab" stroke-width="1.6"/>
<path d="M70.41 418.70L73.31 412.40L76.22 418.70L73.31 417.30Z" stroke="none" stroke-width="0" fill="#495bab"/>
<text x="73.31" y="427.70" font-size="7.5" text-anchor="middle" style="fill:#f0583a;stroke:#f0583a">i.v.</text>
<line x1="110.43" y1="411.50" x2="110.43" y2="406.30" stroke="#f0583a" stroke-width="1.6"/>
<path d="M107.53 407.90L110.43 401.60L113.33 407.90L110.43 406.50Z" stroke="none" stroke-width="0" fill="#f0583a"/>
<line x1="110.43" y1="419.80" x2="110.43" y2="415.60" stroke="#495bab" stroke-width="1.6"/>
<path d="M107.53 417.20L110.43 410.90L113.33 417.20L110.43 415.80Z" stroke="none" stroke-width="0" fill="#495bab"/>
<text x="110.43" y="426.20" font-size="7.5" text-anchor="middle" style="fill:#f0583a;stroke:#f0583a">i.v.</text>
</g>
<g id="panelE">
<text x="191.00" y="243.20" font-size="10" font-weight="bold" style="fill:#000;stroke:#000">E</text>
<text x="192.70" y="252.30" font-size="6.9">ASPC-1 xenograft</text>
<text x="192.70" y="260.40" font-size="6.9">HER2-targeting ADC</text>
<text x="199.50" y="334.50" font-size="7" text-anchor="middle" transform="rotate(-90 199.50 334.50)">Tumor volume (mm<tspan baseline-shift="super" font-size="4.5">3</tspan>) (mean ± SEM)</text>
<line x1="222.70" y1="379.70" x2="222.70" y2="283.06" stroke="#4d4e50" stroke-width="1"/>
<line x1="219.50" y1="379.20" x2="222.70" y2="379.20" stroke="#4d4e50" stroke-width="1"/>
<text x="219.20" y="381.90" font-size="7.5" text-anchor="end">0</text>
<line x1="219.50" y1="347.32" x2="222.70" y2="347.32" stroke="#4d4e50" stroke-width="1"/>
<text x="219.20" y="350.02" font-size="7.5" text-anchor="end">400</text>
<line x1="219.50" y1="315.44" x2="222.70" y2="315.44" stroke="#4d4e50" stroke-width="1"/>
<text x="219.20" y="318.14" font-size="7.5" text-anchor="end">800</text>
<line x1="219.50" y1="283.56" x2="222.70" y2="283.56" stroke="#4d4e50" stroke-width="1"/>
<text x="219.20" y="286.26" font-size="7.5" text-anchor="end">1,200</text>
<line x1="222.20" y1="379.20" x2="342.27" y2="379.20" stroke="#4d4e50" stroke-width="1"/>
<line x1="222.70" y1="379.20" x2="222.70" y2="382.50" stroke="#4d4e50" stroke-width="1"/>
<line x1="262.39" y1="379.20" x2="262.39" y2="382.50" stroke="#4d4e50" stroke-width="1"/>
<text x="262.39" y="390.00" font-size="7.5" text-anchor="middle">7</text>
<line x1="302.08" y1="379.20" x2="302.08" y2="382.50" stroke="#4d4e50" stroke-width="1"/>
<text x="302.08" y="390.00" font-size="7.5" text-anchor="middle">14</text>
<line x1="341.77" y1="379.20" x2="341.77" y2="382.50" stroke="#4d4e50" stroke-width="1"/>
<text x="341.77" y="390.00" font-size="7.5" text-anchor="middle">21</text>
<line x1="222.70" y1="379.20" x2="222.70" y2="381.00" stroke="#4d4e50" stroke-width="0.8"/>
<line x1="228.37" y1="379.20" x2="228.37" y2="381.00" stroke="#4d4e50" stroke-width="0.8"/>
<line x1="234.04" y1="379.20" x2="234.04" y2="381.00" stroke="#4d4e50" stroke-width="0.8"/>
<line x1="239.71" y1="379.20" x2="239.71" y2="381.00" stroke="#4d4e50" stroke-width="0.8"/>
<line x1="245.38" y1="379.20" x2="245.38" y2="381.00" stroke="#4d4e50" stroke-width="0.8"/>
<line x1="251.05" y1="379.20" x2="251.05" y2="381.00" stroke="#4d4e50" stroke-width="0.8"/>
<line x1="256.72" y1="379.20" x2="256.72" y2="381.00" stroke="#4d4e50" stroke-width="0.8"/>
<line x1="262.39" y1="379.20" x2="262.39" y2="381.00" stroke="#4d4e50" stroke-width="0.8"/>
<line x1="268.06" y1="379.20" x2="268.06" y2="381.00" stroke="#4d4e50" stroke-width="0.8"/>
<line x1="273.73" y1="379.20" x2="273.73" y2="381.00" stroke="#4d4e50" stroke-width="0.8"/>
<line x1="279.40" y1="379.20" x2="279.40" y2="381.00" stroke="#4d4e50" stroke-width="0.8"/>
<line x1="285.07" y1="379.20" x2="285.07" y2="381.00" stroke="#4d4e50" stroke-width="0.8"/>
<line x1="290.74" y1="379.20" x2="290.74" y2="381.00" stroke="#4d4e50" stroke-width="0.8"/>
<line x1="296.41" y1="379.20" x2="296.41" y2="381.00" stroke="#4d4e50" stroke-width="0.8"/>
<line x1="302.08" y1="379.20" x2="302.08" y2="381.00" stroke="#4d4e50" stroke-width="0.8"/>
<line x1="307.75" y1="379.20" x2="307.75" y2="381.00" stroke="#4d4e50" stroke-width="0.8"/>
<line x1="313.42" y1="379.20" x2="313.42" y2="381.00" stroke="#4d4e50" stroke-width="0.8"/>
<line x1="319.09" y1="379.20" x2="319.09" y2="381.00" stroke="#4d4e50" stroke-width="0.8"/>
<line x1="324.76" y1="379.20" x2="324.76" y2="381.00" stroke="#4d4e50" stroke-width="0.8"/>
<line x1="330.43" y1="379.20" x2="330.43" y2="381.00" stroke="#4d4e50" stroke-width="0.8"/>
<line x1="336.10" y1="379.20" x2="336.10" y2="381.00" stroke="#4d4e50" stroke-width="0.8"/>
<line x1="341.77" y1="379.20" x2="341.77" y2="381.00" stroke="#4d4e50" stroke-width="0.8"/>
<text x="281.00" y="400.00" font-size="7.25" text-anchor="middle">Days after administration</text>
<line x1="261.10" y1="261.70" x2="269.50" y2="261.70" stroke="#a168bb" stroke-width="0.95"/>
<circle cx="265.30" cy="261.70" r="1.70" fill="#a168bb"/>
<text x="271.60" y="264.30" font-size="6.8">YHO-13351</text>
<line x1="261.10" y1="268.07" x2="269.50" y2="268.07" stroke="#111111" stroke-width="0.95"/>
<circle cx="265.30" cy="268.07" r="1.70" fill="#111111"/>
<text x="271.60" y="270.67" font-size="6.8">PBS</text>
<line x1="261.10" y1="274.44" x2="269.50" y2="274.44" stroke="#f0583a" stroke-width="0.95"/>
<rect x="263.60" y="272.74" width="3.40" height="3.40" fill="#f0583a"/>
<text x="271.60" y="277.04" font-size="6.8">DS-8201a</text>
<line x1="261.10" y1="280.81" x2="269.50" y2="280.81" stroke="#f0583a" stroke-width="0.95"/>
<path d="M265.30 279.11L267.00 282.17L263.60 282.17Z" fill="#f0583a"/>
<text x="271.60" y="283.41" font-size="6.8">DS-8201a + YHO-13351</text>
<line x1="261.10" y1="287.18" x2="269.50" y2="287.18" stroke="#495bab" stroke-width="0.95"/>
<rect x="263.60" y="285.48" width="3.40" height="3.40" fill="#495bab"/>
<text x="271.60" y="289.78" font-size="6.8">MTX-1000</text>
<line x1="261.10" y1="293.55" x2="269.50" y2="293.55" stroke="#495bab" stroke-width="0.95"/>
<path d="M265.30 291.85L267.00 294.91L263.60 294.91Z" fill="#495bab"/>
<text x="271.60" y="296.15" font-size="6.8">MTX-1000 + YHO-13351</text>
<path d="M222.70 362.10L239.71 352.10L262.39 346.70L279.40 336.00L302.08 319.00L319.09 304.50" stroke="#a168bb" stroke-width="0.85" fill="none" stroke-linejoin="round"/>
<line x1="262.39" y1="346.70" x2="262.39" y2="343.50" stroke="#a168bb" stroke-width="0.8"/>
<line x1="260.39" y1="343.50" x2="264.39" y2="343.50" stroke="#a168bb" stroke-width="0.8"/>
<line x1="279.40" y1="336.00" x2="279.40" y2="332.50" stroke="#a168bb" stroke-width="0.8"/>
<line x1="277.40" y1="332.50" x2="281.40" y2="332.50" stroke="#a168bb" stroke-width="0.8"/>
<line x1="302.08" y1="319.00" x2="302.08" y2="315.00" stroke="#a168bb" stroke-width="0.8"/>
<line x1="300.08" y1="315.00" x2="304.08" y2="315.00" stroke="#a168bb" stroke-width="0.8"/>
<line x1="319.09" y1="304.50" x2="319.09" y2="299.50" stroke="#a168bb" stroke-width="0.8"/>
<line x1="317.09" y1="299.50" x2="321.09" y2="299.50" stroke="#a168bb" stroke-width="0.8"/>
<circle cx="222.70" cy="362.10" r="2.20" fill="#a168bb"/>
<circle cx="239.71" cy="352.10" r="2.20" fill="#a168bb"/>
<circle cx="262.39" cy="346.70" r="2.20" fill="#a168bb"/>
<circle cx="279.40" cy="336.00" r="2.20" fill="#a168bb"/>
<circle cx="302.08" cy="319.00" r="2.20" fill="#a168bb"/>
<circle cx="319.09" cy="304.50" r="2.20" fill="#a168bb"/>
<path d="M222.70 362.10L239.71 353.00L262.39 350.80L279.40 337.30L302.08 325.20L319.09 307.70" stroke="#111111" stroke-width="0.85" fill="none" stroke-linejoin="round"/>
<line x1="302.08" y1="325.20" x2="302.08" y2="322.00" stroke="#111111" stroke-width="0.8"/>
<line x1="300.08" y1="322.00" x2="304.08" y2="322.00" stroke="#111111" stroke-width="0.8"/>
<circle cx="222.70" cy="362.10" r="2.20" fill="#111111"/>
<circle cx="239.71" cy="353.00" r="2.20" fill="#111111"/>
<circle cx="262.39" cy="350.80" r="2.20" fill="#111111"/>
<circle cx="279.40" cy="337.30" r="2.20" fill="#111111"/>
<circle cx="302.08" cy="325.20" r="2.20" fill="#111111"/>
<circle cx="319.09" cy="307.70" r="2.20" fill="#111111"/>
<path d="M222.70 362.10L239.71 361.50L262.39 363.40L279.40 359.40L302.08 359.70L319.09 358.90" stroke="#495bab" stroke-width="0.85" fill="none" stroke-linejoin="round"/>
<line x1="319.09" y1="358.90" x2="319.09" y2="355.50" stroke="#495bab" stroke-width="0.8"/>
<line x1="317.09" y1="355.50" x2="321.09" y2="355.50" stroke="#495bab" stroke-width="0.8"/>
<path d="M222.70 359.90L224.90 363.86L220.50 363.86Z" fill="#495bab"/>
<path d="M239.71 359.30L241.91 363.26L237.51 363.26Z" fill="#495bab"/>
<path d="M262.39 361.20L264.59 365.16L260.19 365.16Z" fill="#495bab"/>
<path d="M279.40 357.20L281.60 361.16L277.20 361.16Z" fill="#495bab"/>
<path d="M302.08 357.50L304.28 361.46L299.88 361.46Z" fill="#495bab"/>
<path d="M319.09 356.70L321.29 360.66L316.89 360.66Z" fill="#495bab"/>
<path d="M222.70 362.10L239.71 354.00L262.39 356.20L279.40 356.70L302.08 351.60L319.09 350.00" stroke="#495bab" stroke-width="0.85" fill="none" stroke-linejoin="round"/>
<rect x="220.50" y="359.90" width="4.40" height="4.40" fill="#495bab"/>
<rect x="237.51" y="351.80" width="4.40" height="4.40" fill="#495bab"/>
<rect x="260.19" y="354.00" width="4.40" height="4.40" fill="#495bab"/>
<rect x="277.20" y="354.50" width="4.40" height="4.40" fill="#495bab"/>
<rect x="299.88" y="349.40" width="4.40" height="4.40" fill="#495bab"/>
<rect x="316.89" y="347.80" width="4.40" height="4.40" fill="#495bab"/>
<path d="M222.70 362.10L239.71 357.50L262.39 358.90L279.40 357.00L302.08 350.20L319.09 346.70" stroke="#f0583a" stroke-width="0.85" fill="none" stroke-linejoin="round"/>
<path d="M222.70 359.90L224.90 363.86L220.50 363.86Z" fill="#f0583a"/>
<path d="M239.71 355.30L241.91 359.26L237.51 359.26Z" fill="#f0583a"/>
<path d="M262.39 356.70L264.59 360.66L260.19 360.66Z" fill="#f0583a"/>
<path d="M279.40 354.80L281.60 358.76L277.20 358.76Z" fill="#f0583a"/>
<path d="M302.08 348.00L304.28 351.96L299.88 351.96Z" fill="#f0583a"/>
<path d="M319.09 344.50L321.29 348.46L316.89 348.46Z" fill="#f0583a"/>
<path d="M222.70 362.10L239.71 355.60L262.39 350.80L279.40 346.20L302.08 331.40L319.09 325.70" stroke="#f0583a" stroke-width="0.85" fill="none" stroke-linejoin="round"/>
<line x1="319.09" y1="325.70" x2="319.09" y2="321.50" stroke="#f0583a" stroke-width="0.8"/>
<line x1="317.09" y1="321.50" x2="321.09" y2="321.50" stroke="#f0583a" stroke-width="0.8"/>
<rect x="220.50" y="359.90" width="4.40" height="4.40" fill="#f0583a"/>
<rect x="237.51" y="353.40" width="4.40" height="4.40" fill="#f0583a"/>
<rect x="260.19" y="348.60" width="4.40" height="4.40" fill="#f0583a"/>
<rect x="277.20" y="344.00" width="4.40" height="4.40" fill="#f0583a"/>
<rect x="299.88" y="329.20" width="4.40" height="4.40" fill="#f0583a"/>
<rect x="316.89" y="323.50" width="4.40" height="4.40" fill="#f0583a"/>
<circle cx="222.70" cy="362.10" r="2.20" fill="#d8263c"/>
<path d="M322.5 325.7H328V350H322.5" stroke="#454d4f" stroke-width="0.85" fill="none"/>
<text x="329.50" y="319.60" font-size="7.5" font-style="italic" transform="rotate(90 329.50 319.60)">**P 0.0042</text>
<line x1="222.70" y1="392.40" x2="222.70" y2="387.40" stroke="#111111" stroke-width="1.7"/>
<path d="M220.10 389.00L222.70 383.40L225.30 389.00L222.70 387.60Z" stroke="none" stroke-width="0" fill="#111111"/>
</g>
<g id="panelF">
<text x="356.00" y="243.30" font-size="10" font-weight="bold" style="fill:#000;stroke:#000">F</text>
<text x="364.50" y="259.90" font-size="7.6">HER2-targeting ADCs</text>
<rect x="396.40" y="269.90" width="9.60" height="4.40" fill="#f0583a" stroke="none" stroke-width="1"/>
<text x="409.20" y="274.70" font-size="7.2">DS-8201a</text>
<rect x="396.90" y="278.30" width="8.60" height="3.40" fill="#fff" stroke="#f0583a" stroke-width="1"/>
<text x="409.20" y="282.60" font-size="7.2">DS-8201a + YHO-13351/tariquidar</text>
<rect x="396.40" y="288.80" width="9.60" height="4.40" fill="#495bab" stroke="none" stroke-width="1"/>
<text x="409.20" y="293.60" font-size="7.2">MTX-1000</text>
<rect x="396.90" y="296.30" width="8.60" height="3.40" fill="#fff" stroke="#495bab" stroke-width="1"/>
<text x="409.20" y="300.60" font-size="7.2">MTX-100 + YHO-13351/tariquidar</text>
<text x="362.00" y="344.30" font-size="7.5" text-anchor="middle" transform="rotate(-90 362.00 344.30)">Best percentage change of</text>
<text x="370.20" y="344.30" font-size="7.5" text-anchor="middle" transform="rotate(-90 370.20 344.30)">initial tumor volume</text>
<line x1="391.30" y1="397.36" x2="391.30" y2="290.20" stroke="#231f20" stroke-width="1.3"/>
<line x1="386.50" y1="290.80" x2="391.30" y2="290.80" stroke="#231f20" stroke-width="1.3"/>
<text x="385.60" y="293.50" font-size="7.5" text-anchor="end">500</text>
<line x1="386.50" y1="308.46" x2="391.30" y2="308.46" stroke="#231f20" stroke-width="1.3"/>
<text x="385.60" y="311.16" font-size="7.5" text-anchor="end">400</text>
<line x1="386.50" y1="326.12" x2="391.30" y2="326.12" stroke="#231f20" stroke-width="1.3"/>
<text x="385.60" y="328.82" font-size="7.5" text-anchor="end">300</text>
<line x1="386.50" y1="343.78" x2="391.30" y2="343.78" stroke="#231f20" stroke-width="1.3"/>
<text x="385.60" y="346.48" font-size="7.5" text-anchor="end">200</text>
<line x1="386.50" y1="361.44" x2="391.30" y2="361.44" stroke="#231f20" stroke-width="1.3"/>
<text x="385.60" y="364.14" font-size="7.5" text-anchor="end">100</text>
<line x1="386.50" y1="379.10" x2="391.30" y2="379.10" stroke="#231f20" stroke-width="1.3"/>
<text x="385.60" y="381.80" font-size="7.5" text-anchor="end">0</text>
<line x1="386.50" y1="396.76" x2="391.30" y2="396.76" stroke="#231f20" stroke-width="1.3"/>
<text x="385.60" y="399.46" font-size="7.5" text-anchor="end">−100</text>
<line x1="386.50" y1="384.40" x2="391.30" y2="384.40" stroke="#231f20" stroke-width="1.3"/>
<text x="385.60" y="387.30" font-size="7.5" text-anchor="end">−30</text>
<line x1="390.70" y1="379.10" x2="520.00" y2="379.10" stroke="#231f20" stroke-width="1.3"/>
<line x1="391.30" y1="384.40" x2="520.00" y2="384.40" stroke="#231f20" stroke-width="0.9" stroke-dasharray="1.2 1.6"/>
<rect x="396.25" y="343.68" width="8.20" height="34.97" fill="#f0583a" stroke="#e2472b" stroke-width="0.5"/>
<rect x="410.90" y="365.57" width="7.50" height="13.13" fill="#fff" stroke="#f0583a" stroke-width="1.2"/>
<rect x="424.35" y="368.58" width="8.20" height="10.07" fill="#495bab" stroke="#3b4c99" stroke-width="0.5"/>
<rect x="438.60" y="377.23" width="7.50" height="1.47" fill="#fff" stroke="#495bab" stroke-width="1.2"/>
<rect x="462.45" y="308.71" width="8.20" height="69.94" fill="#f0583a" stroke="#e2472b" stroke-width="0.5"/>
<rect x="476.60" y="371.75" width="7.50" height="6.95" fill="#fff" stroke="#f0583a" stroke-width="1.2"/>
<rect x="490.15" y="375.64" width="8.20" height="3.01" fill="#495bab" stroke="#3b4c99" stroke-width="0.5"/>
<rect x="504.70" y="379.70" width="7.50" height="2.53" fill="#fff" stroke="#495bab" stroke-width="1.2"/>
<text x="419.80" y="395.50" font-size="7.2" text-anchor="end" transform="rotate(-30 419.80 395.50)">ASPC-1</text>
<text x="425.50" y="404.70" font-size="7.2" text-anchor="end" transform="rotate(-30 425.50 404.70)">(ABCG2: YHO-13351)</text>
<text x="486.20" y="395.00" font-size="7.2" text-anchor="end" transform="rotate(-30 486.20 395.00)">HCT-15</text>
<text x="491.80" y="402.80" font-size="7.3" text-anchor="end" transform="rotate(-30 491.80 402.80)">(P-gp: tariquidar)</text>
</g>
<g id="panelG">
<text x="3.30" y="457.40" font-size="10.3" font-weight="bold" style="fill:#000;stroke:#000">G</text>
<text x="15.30" y="469.00" font-size="7.5">ASPC-1</text>
<text x="15.30" y="478.15" font-size="7.5">HER3-targeting</text>
<text x="15.30" y="487.30" font-size="7.5">ADC</text>
<text x="10.50" y="555.00" font-size="7.5" text-anchor="middle" transform="rotate(-90 10.50 555.00)">Tumor volume (mm<tspan baseline-shift="super" font-size="4.8">3</tspan>) (mean ± SEM)</text>
<line x1="38.40" y1="605.50" x2="38.40" y2="494.70" stroke="#231f20" stroke-width="1.25"/>
<line x1="35.00" y1="604.90" x2="38.40" y2="604.90" stroke="#231f20" stroke-width="1.25"/>
<text x="34.40" y="607.60" font-size="7.5" text-anchor="end">0</text>
<line x1="35.00" y1="591.20" x2="38.40" y2="591.20" stroke="#231f20" stroke-width="1.25"/>
<text x="34.40" y="593.90" font-size="7.5" text-anchor="end">400</text>
<line x1="35.00" y1="577.50" x2="38.40" y2="577.50" stroke="#231f20" stroke-width="1.25"/>
<text x="34.40" y="580.20" font-size="7.5" text-anchor="end">800</text>
<line x1="35.00" y1="563.80" x2="38.40" y2="563.80" stroke="#231f20" stroke-width="1.25"/>
<text x="34.40" y="566.50" font-size="7.5" text-anchor="end">1,200</text>
<line x1="35.00" y1="550.10" x2="38.40" y2="550.10" stroke="#231f20" stroke-width="1.25"/>
<text x="34.40" y="552.80" font-size="7.5" text-anchor="end">1,600</text>
<line x1="35.00" y1="536.40" x2="38.40" y2="536.40" stroke="#231f20" stroke-width="1.25"/>
<text x="34.40" y="539.10" font-size="7.5" text-anchor="end">2,000</text>
<line x1="35.00" y1="522.70" x2="38.40" y2="522.70" stroke="#231f20" stroke-width="1.25"/>
<text x="34.40" y="525.40" font-size="7.5" text-anchor="end">2,400</text>
<line x1="35.00" y1="509.00" x2="38.40" y2="509.00" stroke="#231f20" stroke-width="1.25"/>
<text x="34.40" y="511.70" font-size="7.5" text-anchor="end">2,800</text>
<line x1="35.00" y1="495.30" x2="38.40" y2="495.30" stroke="#231f20" stroke-width="1.25"/>
<text x="34.40" y="498.00" font-size="7.5" text-anchor="end">3,200</text>
<line x1="37.90" y1="604.90" x2="176.43" y2="604.90" stroke="#231f20" stroke-width="1.25"/>
<line x1="38.20" y1="604.90" x2="38.20" y2="608.30" stroke="#231f20" stroke-width="1.25"/>
<text x="38.20" y="616.80" font-size="7.5" text-anchor="middle">41</text>
<line x1="52.54" y1="604.90" x2="52.54" y2="608.30" stroke="#231f20" stroke-width="1.25"/>
<text x="52.54" y="616.80" font-size="7.5" text-anchor="middle">45</text>
<line x1="66.88" y1="604.90" x2="66.88" y2="608.30" stroke="#231f20" stroke-width="1.25"/>
<text x="66.88" y="616.80" font-size="7.5" text-anchor="middle">49</text>
<line x1="81.22" y1="604.90" x2="81.22" y2="608.30" stroke="#231f20" stroke-width="1.25"/>
<text x="81.22" y="616.80" font-size="7.5" text-anchor="middle">53</text>
<line x1="95.56" y1="604.90" x2="95.56" y2="608.30" stroke="#231f20" stroke-width="1.25"/>
<text x="95.56" y="616.80" font-size="7.5" text-anchor="middle">57</text>
<line x1="109.90" y1="604.90" x2="109.90" y2="608.30" stroke="#231f20" stroke-width="1.25"/>
<text x="109.90" y="616.80" font-size="7.5" text-anchor="middle">61</text>
<line x1="124.24" y1="604.90" x2="124.24" y2="608.30" stroke="#231f20" stroke-width="1.25"/>
<text x="124.24" y="616.80" font-size="7.5" text-anchor="middle">65</text>
<line x1="138.58" y1="604.90" x2="138.58" y2="608.30" stroke="#231f20" stroke-width="1.25"/>
<text x="138.58" y="616.80" font-size="7.5" text-anchor="middle">69</text>
<line x1="152.92" y1="604.90" x2="152.92" y2="608.30" stroke="#231f20" stroke-width="1.25"/>
<text x="152.92" y="616.80" font-size="7.5" text-anchor="middle">73</text>
<line x1="167.26" y1="604.90" x2="167.26" y2="608.30" stroke="#231f20" stroke-width="1.25"/>
<text x="167.26" y="616.80" font-size="7.5" text-anchor="middle">77</text>
<line x1="38.20" y1="604.90" x2="38.20" y2="606.70" stroke="#231f20" stroke-width="0.8"/>
<line x1="41.79" y1="604.90" x2="41.79" y2="606.70" stroke="#231f20" stroke-width="0.8"/>
<line x1="45.37" y1="604.90" x2="45.37" y2="606.70" stroke="#231f20" stroke-width="0.8"/>
<line x1="48.95" y1="604.90" x2="48.95" y2="606.70" stroke="#231f20" stroke-width="0.8"/>
<line x1="52.54" y1="604.90" x2="52.54" y2="606.70" stroke="#231f20" stroke-width="0.8"/>
<line x1="56.12" y1="604.90" x2="56.12" y2="606.70" stroke="#231f20" stroke-width="0.8"/>
<line x1="59.71" y1="604.90" x2="59.71" y2="606.70" stroke="#231f20" stroke-width="0.8"/>
<line x1="63.30" y1="604.90" x2="63.30" y2="606.70" stroke="#231f20" stroke-width="0.8"/>
<line x1="66.88" y1="604.90" x2="66.88" y2="606.70" stroke="#231f20" stroke-width="0.8"/>
<line x1="70.47" y1="604.90" x2="70.47" y2="606.70" stroke="#231f20" stroke-width="0.8"/>
<line x1="74.05" y1="604.90" x2="74.05" y2="606.70" stroke="#231f20" stroke-width="0.8"/>
<line x1="77.64" y1="604.90" x2="77.64" y2="606.70" stroke="#231f20" stroke-width="0.8"/>
<line x1="81.22" y1="604.90" x2="81.22" y2="606.70" stroke="#231f20" stroke-width="0.8"/>
<line x1="84.81" y1="604.90" x2="84.81" y2="606.70" stroke="#231f20" stroke-width="0.8"/>
<line x1="88.39" y1="604.90" x2="88.39" y2="606.70" stroke="#231f20" stroke-width="0.8"/>
<line x1="91.97" y1="604.90" x2="91.97" y2="606.70" stroke="#231f20" stroke-width="0.8"/>
<line x1="95.56" y1="604.90" x2="95.56" y2="606.70" stroke="#231f20" stroke-width="0.8"/>
<line x1="99.15" y1="604.90" x2="99.15" y2="606.70" stroke="#231f20" stroke-width="0.8"/>
<line x1="102.73" y1="604.90" x2="102.73" y2="606.70" stroke="#231f20" stroke-width="0.8"/>
<line x1="106.31" y1="604.90" x2="106.31" y2="606.70" stroke="#231f20" stroke-width="0.8"/>
<line x1="109.90" y1="604.90" x2="109.90" y2="606.70" stroke="#231f20" stroke-width="0.8"/>
<line x1="113.48" y1="604.90" x2="113.48" y2="606.70" stroke="#231f20" stroke-width="0.8"/>
<line x1="117.07" y1="604.90" x2="117.07" y2="606.70" stroke="#231f20" stroke-width="0.8"/>
<line x1="120.66" y1="604.90" x2="120.66" y2="606.70" stroke="#231f20" stroke-width="0.8"/>
<line x1="124.24" y1="604.90" x2="124.24" y2="606.70" stroke="#231f20" stroke-width="0.8"/>
<line x1="127.83" y1="604.90" x2="127.83" y2="606.70" stroke="#231f20" stroke-width="0.8"/>
<line x1="131.41" y1="604.90" x2="131.41" y2="606.70" stroke="#231f20" stroke-width="0.8"/>
<line x1="135.00" y1="604.90" x2="135.00" y2="606.70" stroke="#231f20" stroke-width="0.8"/>
<line x1="138.58" y1="604.90" x2="138.58" y2="606.70" stroke="#231f20" stroke-width="0.8"/>
<line x1="142.17" y1="604.90" x2="142.17" y2="606.70" stroke="#231f20" stroke-width="0.8"/>
<line x1="145.75" y1="604.90" x2="145.75" y2="606.70" stroke="#231f20" stroke-width="0.8"/>
<line x1="149.34" y1="604.90" x2="149.34" y2="606.70" stroke="#231f20" stroke-width="0.8"/>
<line x1="152.92" y1="604.90" x2="152.92" y2="606.70" stroke="#231f20" stroke-width="0.8"/>
<line x1="156.50" y1="604.90" x2="156.50" y2="606.70" stroke="#231f20" stroke-width="0.8"/>
<line x1="160.09" y1="604.90" x2="160.09" y2="606.70" stroke="#231f20" stroke-width="0.8"/>
<line x1="163.68" y1="604.90" x2="163.68" y2="606.70" stroke="#231f20" stroke-width="0.8"/>
<line x1="167.26" y1="604.90" x2="167.26" y2="606.70" stroke="#231f20" stroke-width="0.8"/>
<line x1="170.85" y1="604.90" x2="170.85" y2="606.70" stroke="#231f20" stroke-width="0.8"/>
<line x1="174.43" y1="604.90" x2="174.43" y2="606.70" stroke="#231f20" stroke-width="0.8"/>
<text x="106.60" y="627.40" font-size="7.5" text-anchor="middle">Days after tumor inoculation</text>
<line x1="71.10" y1="471.20" x2="80.10" y2="471.20" stroke="#e21f2d" stroke-width="1.5"/>
<rect x="73.80" y="469.40" width="3.60" height="3.60" fill="#e21f2d"/>
<text x="82.60" y="473.80" font-size="7.5">P–GGFG–DXd</text>
<line x1="71.10" y1="480.00" x2="80.10" y2="480.00" stroke="#f0583a" stroke-width="0.95"/>
<path d="M75.60 478.30L77.30 481.36L73.90 481.36Z" fill="#f0583a"/>
<text x="82.60" y="482.60" font-size="7.5">P–GGFG–DXd +</text>
<text x="82.60" y="491.40" font-size="7.1">YHO-13351, 100 mg/kg, t.i.w. × 2</text>
<line x1="71.10" y1="498.80" x2="80.10" y2="498.80" stroke="#495bab" stroke-width="0.95"/>
<rect x="73.80" y="497.00" width="3.60" height="3.60" fill="#495bab"/>
<text x="82.60" y="501.40" font-size="7.5">P–T800–exatecan</text>
<path d="M38.20 573.00L48.95 568.50L59.71 560.50L70.47 556.00L99.15 542.60L109.90 536.00L120.66 536.60L135.00 535.40L145.75 530.00L160.09 518.70" stroke="#e21f2d" stroke-width="1.4" fill="none" stroke-linejoin="round"/>
<line x1="38.20" y1="573.00" x2="38.20" y2="565.40" stroke="#e21f2d" stroke-width="1.0"/>
<line x1="35.90" y1="565.40" x2="40.50" y2="565.40" stroke="#e21f2d" stroke-width="1.0"/>
<line x1="48.95" y1="568.50" x2="48.95" y2="561.00" stroke="#e21f2d" stroke-width="1.0"/>
<line x1="46.66" y1="561.00" x2="51.25" y2="561.00" stroke="#e21f2d" stroke-width="1.0"/>
<line x1="59.71" y1="560.50" x2="59.71" y2="551.50" stroke="#e21f2d" stroke-width="1.0"/>
<line x1="57.41" y1="551.50" x2="62.01" y2="551.50" stroke="#e21f2d" stroke-width="1.0"/>
<line x1="70.47" y1="556.00" x2="70.47" y2="548.40" stroke="#e21f2d" stroke-width="1.0"/>
<line x1="68.17" y1="548.40" x2="72.77" y2="548.40" stroke="#e21f2d" stroke-width="1.0"/>
<line x1="99.15" y1="542.60" x2="99.15" y2="533.00" stroke="#e21f2d" stroke-width="1.0"/>
<line x1="96.85" y1="533.00" x2="101.45" y2="533.00" stroke="#e21f2d" stroke-width="1.0"/>
<line x1="109.90" y1="536.00" x2="109.90" y2="527.00" stroke="#e21f2d" stroke-width="1.0"/>
<line x1="107.60" y1="527.00" x2="112.20" y2="527.00" stroke="#e21f2d" stroke-width="1.0"/>
<line x1="120.66" y1="536.60" x2="120.66" y2="526.80" stroke="#e21f2d" stroke-width="1.0"/>
<line x1="118.36" y1="526.80" x2="122.95" y2="526.80" stroke="#e21f2d" stroke-width="1.0"/>
<line x1="135.00" y1="535.40" x2="135.00" y2="530.00" stroke="#e21f2d" stroke-width="1.0"/>
<line x1="132.69" y1="530.00" x2="137.30" y2="530.00" stroke="#e21f2d" stroke-width="1.0"/>
<line x1="145.75" y1="530.00" x2="145.75" y2="524.00" stroke="#e21f2d" stroke-width="1.0"/>
<line x1="143.45" y1="524.00" x2="148.05" y2="524.00" stroke="#e21f2d" stroke-width="1.0"/>
<line x1="160.09" y1="518.70" x2="160.09" y2="504.40" stroke="#e21f2d" stroke-width="1.0"/>
<line x1="157.79" y1="504.40" x2="162.39" y2="504.40" stroke="#e21f2d" stroke-width="1.0"/>
<rect x="36.00" y="570.80" width="4.40" height="4.40" fill="#e21f2d"/>
<rect x="46.75" y="566.30" width="4.40" height="4.40" fill="#e21f2d"/>
<rect x="57.51" y="558.30" width="4.40" height="4.40" fill="#e21f2d"/>
<rect x="68.27" y="553.80" width="4.40" height="4.40" fill="#e21f2d"/>
<rect x="96.95" y="540.40" width="4.40" height="4.40" fill="#e21f2d"/>
<rect x="107.70" y="533.80" width="4.40" height="4.40" fill="#e21f2d"/>
<rect x="118.45" y="534.40" width="4.40" height="4.40" fill="#e21f2d"/>
<rect x="132.80" y="533.20" width="4.40" height="4.40" fill="#e21f2d"/>
<rect x="143.55" y="527.80" width="4.40" height="4.40" fill="#e21f2d"/>
<rect x="157.89" y="516.50" width="4.40" height="4.40" fill="#e21f2d"/>
<path d="M38.20 573.00L48.95 570.90L59.71 561.00L70.47 562.00L99.15 565.50L109.90 568.50L120.66 571.80L135.00 570.30L145.75 560.50L160.09 551.50" stroke="#f0583a" stroke-width="0.85" fill="none" stroke-linejoin="round"/>
<line x1="38.20" y1="573.00" x2="38.20" y2="569.00" stroke="#f0583a" stroke-width="0.8"/>
<line x1="36.20" y1="569.00" x2="40.20" y2="569.00" stroke="#f0583a" stroke-width="0.8"/>
<line x1="48.95" y1="570.90" x2="48.95" y2="565.00" stroke="#f0583a" stroke-width="0.8"/>
<line x1="46.95" y1="565.00" x2="50.95" y2="565.00" stroke="#f0583a" stroke-width="0.8"/>
<line x1="135.00" y1="570.30" x2="135.00" y2="562.00" stroke="#f0583a" stroke-width="0.8"/>
<line x1="133.00" y1="562.00" x2="137.00" y2="562.00" stroke="#f0583a" stroke-width="0.8"/>
<line x1="145.75" y1="560.50" x2="145.75" y2="550.00" stroke="#f0583a" stroke-width="0.8"/>
<line x1="143.75" y1="550.00" x2="147.75" y2="550.00" stroke="#f0583a" stroke-width="0.8"/>
<line x1="160.09" y1="551.50" x2="160.09" y2="538.00" stroke="#f0583a" stroke-width="0.8"/>
<line x1="158.09" y1="538.00" x2="162.09" y2="538.00" stroke="#f0583a" stroke-width="0.8"/>
<path d="M38.20 570.80L40.40 574.76L36.00 574.76Z" fill="#f0583a"/>
<path d="M48.95 568.70L51.16 572.66L46.75 572.66Z" fill="#f0583a"/>
<path d="M59.71 558.80L61.91 562.76L57.51 562.76Z" fill="#f0583a"/>
<path d="M70.47 559.80L72.67 563.76L68.27 563.76Z" fill="#f0583a"/>
<path d="M99.15 563.30L101.35 567.26L96.95 567.26Z" fill="#f0583a"/>
<path d="M109.90 566.30L112.10 570.26L107.70 570.26Z" fill="#f0583a"/>
<path d="M120.66 569.60L122.86 573.56L118.45 573.56Z" fill="#f0583a"/>
<path d="M135.00 568.10L137.19 572.06L132.80 572.06Z" fill="#f0583a"/>
<path d="M145.75 558.30L147.95 562.26L143.55 562.26Z" fill="#f0583a"/>
<path d="M160.09 549.30L162.29 553.26L157.89 553.26Z" fill="#f0583a"/>
<path d="M38.20 573.00L48.95 570.00L59.71 565.50L70.47 566.40L99.15 561.00L109.90 564.00L120.66 565.20L135.00 571.00L145.75 571.80L160.09 566.40" stroke="#495bab" stroke-width="0.85" fill="none" stroke-linejoin="round"/>
<line x1="48.95" y1="570.00" x2="48.95" y2="567.00" stroke="#495bab" stroke-width="0.8"/>
<line x1="46.95" y1="567.00" x2="50.95" y2="567.00" stroke="#495bab" stroke-width="0.8"/>
<line x1="99.15" y1="561.00" x2="99.15" y2="557.50" stroke="#495bab" stroke-width="0.8"/>
<line x1="97.15" y1="557.50" x2="101.15" y2="557.50" stroke="#495bab" stroke-width="0.8"/>
<line x1="109.90" y1="564.00" x2="109.90" y2="561.00" stroke="#495bab" stroke-width="0.8"/>
<line x1="107.90" y1="561.00" x2="111.90" y2="561.00" stroke="#495bab" stroke-width="0.8"/>
<line x1="120.66" y1="565.20" x2="120.66" y2="562.50" stroke="#495bab" stroke-width="0.8"/>
<line x1="118.66" y1="562.50" x2="122.66" y2="562.50" stroke="#495bab" stroke-width="0.8"/>
<line x1="160.09" y1="566.40" x2="160.09" y2="563.50" stroke="#495bab" stroke-width="0.8"/>
<line x1="158.09" y1="563.50" x2="162.09" y2="563.50" stroke="#495bab" stroke-width="0.8"/>
<rect x="36.00" y="570.80" width="4.40" height="4.40" fill="#495bab"/>
<rect x="46.75" y="567.80" width="4.40" height="4.40" fill="#495bab"/>
<rect x="57.51" y="563.30" width="4.40" height="4.40" fill="#495bab"/>
<rect x="68.27" y="564.20" width="4.40" height="4.40" fill="#495bab"/>
<rect x="96.95" y="558.80" width="4.40" height="4.40" fill="#495bab"/>
<rect x="107.70" y="561.80" width="4.40" height="4.40" fill="#495bab"/>
<rect x="118.45" y="563.00" width="4.40" height="4.40" fill="#495bab"/>
<rect x="132.80" y="568.80" width="4.40" height="4.40" fill="#495bab"/>
<rect x="143.55" y="569.60" width="4.40" height="4.40" fill="#495bab"/>
<rect x="157.89" y="564.20" width="4.40" height="4.40" fill="#495bab"/>
<line x1="38.60" y1="648.80" x2="38.60" y2="636.60" stroke="#e21f2d" stroke-width="1.7"/>
<path d="M35.70 638.20L38.60 632.00L41.50 638.20L38.60 636.80Z" stroke="none" stroke-width="0" fill="#e21f2d"/>
<text x="39.20" y="656.30" font-size="7.5" text-anchor="middle" style="fill:#e21f2d;stroke:#e21f2d">i.v.</text>
<line x1="61.50" y1="648.80" x2="61.50" y2="636.60" stroke="#e21f2d" stroke-width="1.7"/>
<path d="M58.60 638.20L61.50 632.00L64.40 638.20L61.50 636.80Z" stroke="none" stroke-width="0" fill="#e21f2d"/>
<text x="62.10" y="656.30" font-size="7.5" text-anchor="middle" style="fill:#e21f2d;stroke:#e21f2d">i.v.</text>
</g>
<g id="panelG2">
<text x="201.20" y="470.90" font-size="7.5">Xenograft</text>
<text x="201.20" y="480.00" font-size="7.5">ASPC-1</text>
<text x="201.20" y="489.10" font-size="7.5">pancreatic</text>
<text x="201.20" y="498.20" font-size="7.5">cancer</text>
<rect x="241.80" y="475.60" width="7.00" height="4.40" fill="#fff" stroke="#f0583a" stroke-width="1.1"/>
<text x="253.50" y="480.40" font-size="7.5">P–GGFG–DXd</text>
<rect x="241.80" y="484.50" width="7.00" height="4.40" fill="#fff" stroke="#a168bb" stroke-width="1.1"/>
<text x="253.50" y="489.30" font-size="7.5">P–GGFG–DXd</text>
<text x="254.30" y="498.20" font-size="7.5">+ YHO-13351</text>
<text x="192.70" y="554.50" font-size="7.5" text-anchor="middle" transform="rotate(-90 192.70 554.50)">Tumor volume (mm<tspan baseline-shift="super" font-size="4.8">3</tspan>) (mean ± SEM)</text>
<line x1="217.80" y1="605.30" x2="217.80" y2="507.82" stroke="#4d4e50" stroke-width="1.15"/>
<line x1="215.40" y1="604.80" x2="217.80" y2="604.80" stroke="#4d4e50" stroke-width="1.15"/>
<text x="213.70" y="607.50" font-size="7.5" text-anchor="end">0</text>
<line x1="215.40" y1="580.68" x2="217.80" y2="580.68" stroke="#4d4e50" stroke-width="1.15"/>
<text x="213.70" y="583.38" font-size="7.5" text-anchor="end">1,000</text>
<line x1="215.40" y1="556.56" x2="217.80" y2="556.56" stroke="#4d4e50" stroke-width="1.15"/>
<text x="213.70" y="559.26" font-size="7.5" text-anchor="end">2,000</text>
<line x1="215.40" y1="532.44" x2="217.80" y2="532.44" stroke="#4d4e50" stroke-width="1.15"/>
<text x="213.70" y="535.14" font-size="7.5" text-anchor="end">3,000</text>
<line x1="215.40" y1="508.32" x2="217.80" y2="508.32" stroke="#4d4e50" stroke-width="1.15"/>
<text x="213.70" y="511.02" font-size="7.5" text-anchor="end">4,000</text>
<line x1="217.30" y1="604.80" x2="329.50" y2="604.80" stroke="#4d4e50" stroke-width="1.15"/>
<line x1="244.20" y1="604.80" x2="244.20" y2="607.20" stroke="#4d4e50" stroke-width="1.15"/>
<text x="244.20" y="615.60" font-size="7.5" text-anchor="middle">68</text>
<line x1="302.80" y1="604.80" x2="302.80" y2="607.20" stroke="#4d4e50" stroke-width="1.15"/>
<text x="302.80" y="615.60" font-size="7.5" text-anchor="middle">75</text>
<text x="273.80" y="625.20" font-size="7.5" text-anchor="middle">Days after tumor inoculation</text>
<path d="M226.00 549.20L239.40 549.20C239.22 549.72 238.23 551.25 238.30 552.30C238.37 553.35 239.80 554.35 239.80 555.50C239.80 556.65 238.37 557.93 238.30 559.20C238.23 560.47 239.22 562.45 239.40 563.10L226.00 563.10C226.18 562.45 227.17 560.47 227.10 559.20C227.03 557.93 225.60 556.65 225.60 555.50C225.60 554.35 227.03 553.35 227.10 552.30C227.17 551.25 226.18 549.72 226.00 549.20Z" stroke="#f0583a" stroke-width="1.15" fill="#fff" stroke-linejoin="round"/>
<line x1="225.60" y1="555.50" x2="239.80" y2="555.50" stroke="#f0583a" stroke-width="0.9"/>
<rect x="230.85" y="547.65" width="3.70" height="3.70" fill="#e21f2d"/>
<rect x="230.85" y="553.75" width="3.70" height="3.70" fill="#e21f2d"/>
<rect x="230.85" y="560.75" width="3.70" height="3.70" fill="#e21f2d"/>
<path d="M248.60 570.40L261.80 570.40C261.80 571.18 261.73 573.53 261.80 575.10C261.87 576.67 262.43 578.15 262.20 579.80C261.97 581.45 260.52 583.25 260.40 585.00C260.28 586.75 261.32 589.42 261.50 590.30L248.90 590.30C249.08 589.42 250.12 586.75 250.00 585.00C249.88 583.25 248.43 581.45 248.20 579.80C247.97 578.15 248.53 576.67 248.60 575.10C248.67 573.53 248.60 571.18 248.60 570.40Z" stroke="#a168bb" stroke-width="1.15" fill="#fff" stroke-linejoin="round"/>
<line x1="248.20" y1="579.80" x2="262.20" y2="579.80" stroke="#a168bb" stroke-width="0.9"/>
<rect x="253.35" y="568.85" width="3.70" height="3.70" fill="#8d4ea6"/>
<rect x="253.35" y="577.95" width="3.70" height="3.70" fill="#8d4ea6"/>
<rect x="253.35" y="587.95" width="3.70" height="3.70" fill="#8d4ea6"/>
<path d="M287.30 524.80L297.70 524.80C297.53 525.58 296.97 527.87 296.70 529.50C296.43 531.13 296.03 532.68 296.10 534.60C296.17 536.52 296.55 538.78 297.10 541.00C297.65 543.22 298.90 545.90 299.40 547.90C299.90 549.90 300.08 551.40 300.10 553.00C300.12 554.60 299.83 556.33 299.50 557.50C299.17 558.67 298.33 559.58 298.10 560.00L286.90 560.00C286.67 559.58 285.83 558.67 285.50 557.50C285.17 556.33 284.88 554.60 284.90 553.00C284.92 551.40 285.10 549.90 285.60 547.90C286.10 545.90 287.35 543.22 287.90 541.00C288.45 538.78 288.83 536.52 288.90 534.60C288.97 532.68 288.57 531.13 288.30 529.50C288.03 527.87 287.47 525.58 287.30 524.80Z" stroke="#f0583a" stroke-width="1.15" fill="#fff" stroke-linejoin="round"/>
<line x1="285.77" y1="547.40" x2="299.23" y2="547.40" stroke="#f0583a" stroke-width="0.9"/>
<rect x="290.65" y="523.35" width="3.70" height="3.70" fill="#e21f2d"/>
<rect x="290.65" y="545.55" width="3.70" height="3.70" fill="#e21f2d"/>
<rect x="290.65" y="557.75" width="3.70" height="3.70" fill="#e21f2d"/>
<path d="M310.20 549.50L319.60 549.50C319.42 550.08 318.82 551.67 318.50 553.00C318.18 554.33 317.63 555.83 317.70 557.50C317.77 559.17 318.22 560.78 318.90 563.00C319.58 565.22 321.23 568.80 321.80 570.80C322.37 572.80 322.28 573.72 322.30 575.00C322.32 576.28 322.15 577.47 321.90 578.50C321.65 579.53 320.98 580.75 320.80 581.20L309.00 581.20C308.82 580.75 308.15 579.53 307.90 578.50C307.65 577.47 307.48 576.28 307.50 575.00C307.52 573.72 307.43 572.80 308.00 570.80C308.57 568.80 310.22 565.22 310.90 563.00C311.58 560.78 312.03 559.17 312.10 557.50C312.17 555.83 311.62 554.33 311.30 553.00C310.98 551.67 310.38 550.08 310.20 549.50Z" stroke="#a168bb" stroke-width="1.15" fill="#fff" stroke-linejoin="round"/>
<line x1="308.00" y1="570.80" x2="321.80" y2="570.80" stroke="#a168bb" stroke-width="0.9"/>
<rect x="313.05" y="548.15" width="3.70" height="3.70" fill="#8d4ea6"/>
<rect x="313.05" y="568.95" width="3.70" height="3.70" fill="#8d4ea6"/>
<rect x="313.05" y="578.85" width="3.70" height="3.70" fill="#8d4ea6"/>
<path d="M232.7 546.6V540.7H255.5V569.6" stroke="#454d4f" stroke-width="0.85" fill="none"/>
<text x="245.20" y="537.70" font-size="7.5" text-anchor="middle" font-style="italic">*P 0.0228</text>
<path d="M292.4 523.4V516.2H314.9V548.6" stroke="#454d4f" stroke-width="0.85" fill="none"/>
<text x="304.40" y="513.70" font-size="7.5" text-anchor="middle" font-style="italic">n.s.</text>
</g>
<g id="panelH">
<text x="342.60" y="457.20" font-size="10" font-weight="bold" style="fill:#000;stroke:#000">H</text>
<text x="400.60" y="462.80" font-size="7.5">MDR gene</text>
<text x="457.70" y="462.80" font-size="7.5" text-anchor="middle">ABCG2</text>
<text x="495.00" y="462.80" font-size="7.5" text-anchor="middle">P-gp</text>
<line x1="392.60" y1="467.00" x2="519.50" y2="467.00" stroke="#111" stroke-width="1.3" stroke-dasharray="2 1.1"/>
<text x="401.60" y="476.60" font-size="7.5">mRNA</text>
<text x="457.20" y="476.60" font-size="7.5" text-anchor="middle">0.17</text>
<text x="496.60" y="476.60" font-size="7.5" text-anchor="middle">21.56</text>
<text x="347.80" y="544.00" font-size="7.5" text-anchor="middle" transform="rotate(-90 347.80 544.00)">Tumor volume (mm<tspan baseline-shift="super" font-size="4.8">3</tspan>) (mean ± SEM)</text>
<line x1="374.60" y1="605.20" x2="374.60" y2="474.05" stroke="#231f20" stroke-width="1.3"/>
<line x1="370.20" y1="596.90" x2="374.60" y2="596.90" stroke="#231f20" stroke-width="1.3"/>
<text x="369.00" y="599.60" font-size="7.5" text-anchor="end">500</text>
<line x1="370.20" y1="556.15" x2="374.60" y2="556.15" stroke="#231f20" stroke-width="1.3"/>
<text x="369.00" y="558.85" font-size="7.5" text-anchor="end">1,000</text>
<line x1="370.20" y1="515.40" x2="374.60" y2="515.40" stroke="#231f20" stroke-width="1.3"/>
<text x="369.00" y="518.10" font-size="7.5" text-anchor="end">1,500</text>
<line x1="370.20" y1="474.65" x2="374.60" y2="474.65" stroke="#231f20" stroke-width="1.3"/>
<text x="369.00" y="477.35" font-size="7.5" text-anchor="end">2,000</text>
<line x1="374.00" y1="604.60" x2="510.30" y2="604.60" stroke="#231f20" stroke-width="1.3"/>
<line x1="380.80" y1="604.60" x2="380.80" y2="609.60" stroke="#231f20" stroke-width="1.3"/>
<text x="380.80" y="618.50" font-size="7.5" text-anchor="middle">35</text>
<line x1="394.40" y1="604.60" x2="394.40" y2="609.60" stroke="#231f20" stroke-width="1.3"/>
<text x="394.40" y="618.50" font-size="7.5" text-anchor="middle">36</text>
<line x1="407.90" y1="604.60" x2="407.90" y2="609.60" stroke="#231f20" stroke-width="1.3"/>
<text x="407.90" y="618.50" font-size="7.5" text-anchor="middle">37</text>
<line x1="421.60" y1="604.60" x2="421.60" y2="609.60" stroke="#231f20" stroke-width="1.3"/>
<text x="421.60" y="618.50" font-size="7.5" text-anchor="middle">38</text>
<line x1="435.20" y1="604.60" x2="435.20" y2="609.60" stroke="#231f20" stroke-width="1.3"/>
<text x="435.20" y="618.50" font-size="7.5" text-anchor="middle">39</text>
<line x1="448.70" y1="604.60" x2="448.70" y2="609.60" stroke="#231f20" stroke-width="1.3"/>
<text x="448.70" y="618.50" font-size="7.5" text-anchor="middle">40</text>
<line x1="462.20" y1="604.60" x2="462.20" y2="609.60" stroke="#231f20" stroke-width="1.3"/>
<text x="462.20" y="618.50" font-size="7.5" text-anchor="middle">41</text>
<line x1="476.30" y1="604.60" x2="476.30" y2="609.60" stroke="#231f20" stroke-width="1.3"/>
<text x="476.30" y="618.50" font-size="7.5" text-anchor="middle">42</text>
<line x1="489.60" y1="604.60" x2="489.60" y2="609.60" stroke="#231f20" stroke-width="1.3"/>
<text x="489.60" y="618.50" font-size="7.5" text-anchor="middle">45</text>
<line x1="503.20" y1="604.60" x2="503.20" y2="609.60" stroke="#231f20" stroke-width="1.3"/>
<text x="503.20" y="618.50" font-size="7.5" text-anchor="middle">49</text>
<text x="440.20" y="631.30" font-size="7.5" text-anchor="middle">Days after administration</text>
<line x1="433.10" y1="496.00" x2="444.30" y2="496.00" stroke="#ea8a8e" stroke-width="0.95"/>
<rect x="436.30" y="493.60" width="4.80" height="4.80" fill="#ea4e4f"/>
<text x="448.00" y="498.60" font-size="7.3">Dato–DXd</text>
<line x1="433.10" y1="506.50" x2="444.30" y2="506.50" stroke="#ea8a8e" stroke-width="0.95"/>
<path d="M438.70 504.10L441.10 508.42L436.30 508.42Z" fill="#ea4e4f"/>
<text x="448.00" y="509.10" font-size="7.25">Dato–Dxd + tariquidar</text>
<path d="M380.80 590.60L421.60 586.60L476.30 581.50L489.60 575.10L503.20 571.80" stroke="#a58ba8" stroke-width="0.85" fill="none" stroke-linejoin="round"/>
<line x1="380.80" y1="590.60" x2="380.80" y2="588.00" stroke="#b692b0" stroke-width="0.8"/>
<line x1="378.80" y1="588.00" x2="382.80" y2="588.00" stroke="#b692b0" stroke-width="0.8"/>
<line x1="421.60" y1="586.60" x2="421.60" y2="583.00" stroke="#b692b0" stroke-width="0.8"/>
<line x1="419.60" y1="583.00" x2="423.60" y2="583.00" stroke="#b692b0" stroke-width="0.8"/>
<line x1="476.30" y1="581.50" x2="476.30" y2="574.50" stroke="#b692b0" stroke-width="0.8"/>
<line x1="474.30" y1="574.50" x2="478.30" y2="574.50" stroke="#b692b0" stroke-width="0.8"/>
<line x1="489.60" y1="575.10" x2="489.60" y2="569.50" stroke="#b692b0" stroke-width="0.8"/>
<line x1="487.60" y1="569.50" x2="491.60" y2="569.50" stroke="#b692b0" stroke-width="0.8"/>
<line x1="503.20" y1="571.80" x2="503.20" y2="564.50" stroke="#b692b0" stroke-width="0.8"/>
<line x1="501.20" y1="564.50" x2="505.20" y2="564.50" stroke="#b692b0" stroke-width="0.8"/>
<path d="M380.80 588.20L383.20 592.52L378.40 592.52Z" fill="#ea4e4f"/>
<path d="M421.60 584.20L424.00 588.52L419.20 588.52Z" fill="#ea4e4f"/>
<path d="M476.30 579.10L478.70 583.42L473.90 583.42Z" fill="#ea4e4f"/>
<path d="M489.60 572.70L492.00 577.02L487.20 577.02Z" fill="#ea4e4f"/>
<path d="M503.20 569.40L505.60 573.72L500.80 573.72Z" fill="#ea4e4f"/>
<path d="M380.80 587.50L421.60 574.40L476.30 563.10L489.60 555.10L503.20 541.30" stroke="#a58ba8" stroke-width="0.85" fill="none" stroke-linejoin="round"/>
<line x1="380.80" y1="587.50" x2="380.80" y2="583.80" stroke="#b692b0" stroke-width="0.8"/>
<line x1="378.80" y1="583.80" x2="382.80" y2="583.80" stroke="#b692b0" stroke-width="0.8"/>
<line x1="421.60" y1="574.40" x2="421.60" y2="562.00" stroke="#b692b0" stroke-width="0.8"/>
<line x1="419.60" y1="562.00" x2="423.60" y2="562.00" stroke="#b692b0" stroke-width="0.8"/>
<line x1="476.30" y1="563.10" x2="476.30" y2="542.20" stroke="#b692b0" stroke-width="0.8"/>
<line x1="474.30" y1="542.20" x2="478.30" y2="542.20" stroke="#b692b0" stroke-width="0.8"/>
<line x1="489.60" y1="555.10" x2="489.60" y2="534.50" stroke="#b692b0" stroke-width="0.8"/>
<line x1="487.60" y1="534.50" x2="491.60" y2="534.50" stroke="#b692b0" stroke-width="0.8"/>
<line x1="503.20" y1="541.30" x2="503.20" y2="520.40" stroke="#b692b0" stroke-width="0.8"/>
<line x1="501.20" y1="520.40" x2="505.20" y2="520.40" stroke="#b692b0" stroke-width="0.8"/>
<rect x="378.35" y="585.05" width="4.90" height="4.90" fill="#ea4e4f"/>
<rect x="419.15" y="571.95" width="4.90" height="4.90" fill="#ea4e4f"/>
<rect x="473.85" y="560.65" width="4.90" height="4.90" fill="#ea4e4f"/>
<rect x="487.15" y="552.65" width="4.90" height="4.90" fill="#ea4e4f"/>
<rect x="500.75" y="538.85" width="4.90" height="4.90" fill="#ea4e4f"/>
<text x="378.30" y="556.30" font-size="8" font-style="italic">Starting</text>
<text x="378.30" y="565.30" font-size="8" font-style="italic">tumor size</text>
<text x="378.30" y="574.40" font-size="8" font-style="italic">~ 600 mm<tspan baseline-shift="super" font-size="5">3</tspan></text>
<path d="M506.4 540.4H510V572.4H506.4" stroke="#454d4f" stroke-width="0.85" fill="none"/>
<text x="511.90" y="538.60" font-size="7.8" font-style="italic" transform="rotate(90 511.90 538.60)">*P 0.0183</text>
<line x1="380.80" y1="635.40" x2="380.80" y2="628.50" stroke="#f0583a" stroke-width="1.7"/>
<path d="M377.80 630.10L380.80 623.50L383.80 630.10L380.80 628.70Z" stroke="none" stroke-width="0" fill="#f0583a"/>
<text x="381.50" y="643.00" font-size="7.5" text-anchor="middle" style="fill:#f0583a;stroke:#f0583a">i.v.</text>
</g>
</svg>
</body></html>
